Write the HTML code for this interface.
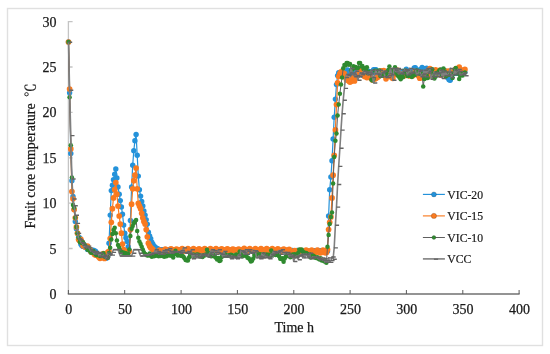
<!DOCTYPE html>
<html lang="en"><head><meta charset="utf-8"><title>Fruit core temperature</title>
<style>html,body{margin:0;padding:0;background:#fff}body{width:550px;height:354px;overflow:hidden}</style></head>
<body>
<svg width="550" height="354" viewBox="0 0 550 354" style="display:block">
<rect width="550" height="354" fill="#fff"/>
<rect x="7.5" y="8.5" width="535" height="337" fill="#fff" stroke="#E0E0E0" stroke-width="1.4"/>
<path d="M68.4 21.1V294M68.4 248.5h4.2M68.4 203.1h4.2M68.4 157.8h4.2M68.4 112.4h4.2M68.4 67.0h4.2M68.4 21.6h4.2" stroke="#C4C4C4" stroke-width="1.3" fill="none"/>
<path d="M67.8 294H519.6" stroke="#707070" stroke-width="1.5" fill="none"/>
<path d="M68.4 294v-4M124.7 294v-4M181.1 294v-4M237.4 294v-4M293.8 294v-4M350.1 294v-4M406.4 294v-4M462.8 294v-4M519.1 294v-4" stroke="#5a5a5a" stroke-width="1" fill="none"/>
<g font-family="'Liberation Serif', 'Times New Roman', serif" font-size="14" fill="#1a1a1a" stroke="#1a1a1a" stroke-width="0.25">
<text x="56.5" y="298.9" text-anchor="end">0</text>
<text x="56.5" y="253.5" text-anchor="end">5</text>
<text x="56.5" y="208.1" text-anchor="end">10</text>
<text x="56.5" y="162.8" text-anchor="end">15</text>
<text x="56.5" y="117.4" text-anchor="end">20</text>
<text x="56.5" y="72.0" text-anchor="end">25</text>
<text x="56.5" y="26.6" text-anchor="end">30</text>
<text x="68.7" y="314" text-anchor="middle">0</text>
<text x="125.0" y="314" text-anchor="middle">50</text>
<text x="181.4" y="314" text-anchor="middle">100</text>
<text x="237.7" y="314" text-anchor="middle">150</text>
<text x="294.1" y="314" text-anchor="middle">200</text>
<text x="350.4" y="314" text-anchor="middle">250</text>
<text x="406.7" y="314" text-anchor="middle">300</text>
<text x="463.1" y="314" text-anchor="middle">350</text>
<text x="519.4" y="314" text-anchor="middle">400</text>
<text x="294.3" y="332" text-anchor="middle">Time h</text>
<text transform="translate(35.2,228.5) rotate(-90)" font-family="'Liberation Serif', 'Noto Serif CJK SC', serif">Fruit core temperature<tspan dx="6">℃</tspan></text>
</g>
<polyline points="68.5,42.0 69.6,92.8 70.8,153.5 71.9,180.7 73.0,196.5 74.1,209.6 75.3,221.4 76.4,228.7 77.5,233.2 78.6,237.2 79.8,238.0 80.9,244.3 82.0,245.7 83.1,246.4 84.3,245.0 85.4,247.5 86.5,247.7 87.6,249.5 88.8,249.5 89.9,249.1 91.0,251.9 92.1,250.4 93.3,250.2 94.4,251.0 95.5,251.2 96.7,253.7 97.8,254.3 98.9,256.1 100.0,256.2 101.2,255.1 102.3,256.6 103.4,257.1 104.5,258.0 105.7,258.3 106.8,258.1 107.9,255.3 109.0,243.2 110.2,215.1 111.3,190.6 112.4,185.2 113.5,179.8 114.7,174.3 115.8,168.9 116.9,177.9 118.0,187.0 119.2,194.2 120.3,200.6 121.4,206.9 122.5,214.2 123.7,225.1 124.8,233.2 125.9,237.7 127.1,241.4 128.2,246.8 129.3,250.4 130.4,220.5 131.6,187.0 132.7,165.3 133.8,150.8 134.9,140.8 136.1,134.4 137.2,155.3 138.3,176.1 139.4,189.7 140.6,196.1 141.7,201.5 142.8,206.0 143.9,211.0 145.1,215.1 146.2,219.6 147.3,224.1 148.4,232.3 149.6,235.9 150.7,238.6 151.8,242.3 152.9,244.1 154.1,246.3 155.2,247.2 156.3,248.1 157.5,248.6 158.6,249.2 159.7,249.7 160.8,249.9 162.0,249.8 163.1,249.8 164.2,249.9 165.3,250.1 166.5,250.0 167.6,250.0 168.7,249.6 169.8,249.4 171.0,249.7 172.1,250.0 173.2,250.2 174.3,250.0 175.5,250.0 176.6,250.2 177.7,250.1 178.8,250.3 180.0,250.0 181.1,250.2 182.2,249.8 183.4,249.8 184.5,249.8 185.6,250.3 186.7,250.2 187.9,250.0 189.0,250.4 190.1,250.4 191.2,250.3 192.4,250.7 193.5,250.4 194.6,250.1 195.7,250.4 196.9,250.2 198.0,250.7 199.1,250.5 200.2,250.9 201.4,250.3 202.5,250.2 203.6,250.3 204.7,250.5 205.9,250.0 207.0,249.6 208.1,250.5 209.2,250.1 210.4,249.7 211.5,249.9 212.6,250.5 213.8,250.2 214.9,250.3 216.0,250.6 217.1,250.9 218.3,250.5 219.4,250.2 220.5,250.5 221.6,250.3 222.8,250.8 223.9,250.4 225.0,250.4 226.1,250.5 227.3,250.6 228.4,250.3 229.5,250.1 230.6,250.2 231.8,250.3 232.9,250.4 234.0,250.3 235.1,250.3 236.3,250.2 237.4,250.5 238.5,251.3 239.7,250.7 240.8,250.0 241.9,250.1 243.0,250.4 244.2,250.6 245.3,250.6 246.4,250.7 247.5,251.0 248.7,251.0 249.8,251.2 250.9,250.9 252.0,250.9 253.2,250.7 254.3,250.8 255.4,250.4 256.5,250.5 257.7,249.9 258.8,250.9 259.9,251.1 261.0,250.7 262.2,249.9 263.3,250.4 264.4,250.6 265.5,250.8 266.7,250.4 267.8,250.7 268.9,250.5 270.1,250.8 271.2,251.2 272.3,251.0 273.4,250.8 274.6,250.4 275.7,250.7 276.8,251.0 277.9,250.8 279.1,250.8 280.2,250.8 281.3,250.9 282.4,250.6 283.6,250.6 284.7,250.2 285.8,250.2 286.9,250.4 288.1,251.2 289.2,250.9 290.3,250.8 291.4,250.7 292.6,250.5 293.7,250.9 294.8,250.7 296.0,251.1 297.1,250.4 298.2,251.2 299.3,251.7 300.5,252.0 301.6,251.9 302.7,251.9 303.8,250.9 305.0,251.1 306.1,251.6 307.2,251.0 308.3,251.3 309.5,251.6 310.6,251.2 311.7,251.0 312.8,251.2 314.0,250.8 315.1,250.9 316.2,250.6 317.3,250.7 318.5,250.5 319.6,250.8 320.7,251.4 321.8,250.6 323.0,251.1 324.1,251.3 325.2,251.5 326.4,251.5 327.5,251.3 328.6,216.0 329.7,189.7 330.9,177.0 332.0,160.7 333.1,139.0 334.2,117.2 335.4,99.1 336.5,84.6 337.6,75.6 338.7,72.8 339.9,72.8 341.0,72.8 342.1,72.8 343.2,72.8 344.4,72.8 345.5,72.8 346.6,73.2 347.7,70.0 348.9,73.5 350.0,73.8 351.1,73.7 352.3,78.0 353.4,72.4 354.5,72.0 355.6,74.1 356.8,70.1 357.9,70.4 359.0,70.8 360.1,72.7 361.3,72.6 362.4,75.3 363.5,72.8 364.6,73.5 365.8,73.0 366.9,70.9 368.0,71.3 369.1,71.5 370.3,71.7 371.4,73.4 372.5,71.8 373.6,69.7 374.8,69.8 375.9,69.7 377.0,72.6 378.1,74.2 379.3,76.0 380.4,72.5 381.5,73.1 382.7,70.6 383.8,72.9 384.9,73.6 386.0,73.1 387.2,71.4 388.3,72.0 389.4,72.0 390.5,72.4 391.7,72.3 392.8,74.4 393.9,73.6 395.0,73.6 396.2,73.3 397.3,72.3 398.4,73.7 399.5,73.4 400.7,73.7 401.8,72.6 402.9,71.4 404.0,73.6 405.2,72.3 406.3,69.1 407.4,73.2 408.6,74.5 409.7,75.2 410.8,74.6 411.9,71.1 413.1,71.9 414.2,68.0 415.3,67.6 416.4,73.5 417.6,71.3 418.7,71.5 419.8,69.8 420.9,72.3 422.1,67.4 423.2,68.5 424.3,69.3 425.4,71.0 426.6,68.1 427.7,69.9 428.8,73.9 429.9,74.8 431.1,73.4 432.2,74.6 433.3,72.7 434.4,71.2 435.6,73.1 436.7,71.0 437.8,72.2 439.0,70.6 440.1,70.9 441.2,69.9 442.3,72.9 443.5,73.0 444.6,70.5 445.7,72.6 446.8,76.1 448.0,77.9 449.1,79.8 450.2,80.2 451.3,77.6 452.5,73.3 453.6,73.8 454.7,72.8 455.8,73.0 457.0,72.9 458.1,73.2 459.2,73.3 460.3,72.3 461.5,74.5 462.6,72.1 463.7,70.9 464.9,72.1" fill="none" stroke="#2492DA" stroke-width="1.2" stroke-linejoin="round"/>
<g fill="#2492DA"><circle cx="68.5" cy="42.0" r="2.7"/><circle cx="69.6" cy="92.8" r="2.7"/><circle cx="70.8" cy="153.5" r="2.7"/><circle cx="71.9" cy="180.7" r="2.7"/><circle cx="73.0" cy="196.5" r="2.7"/><circle cx="74.1" cy="209.6" r="2.7"/><circle cx="75.3" cy="221.4" r="2.7"/><circle cx="76.4" cy="228.7" r="2.7"/><circle cx="77.5" cy="233.2" r="2.7"/><circle cx="78.6" cy="237.2" r="2.7"/><circle cx="79.8" cy="238.0" r="2.7"/><circle cx="80.9" cy="244.3" r="2.7"/><circle cx="82.0" cy="245.7" r="2.7"/><circle cx="83.1" cy="246.4" r="2.7"/><circle cx="84.3" cy="245.0" r="2.7"/><circle cx="85.4" cy="247.5" r="2.7"/><circle cx="86.5" cy="247.7" r="2.7"/><circle cx="87.6" cy="249.5" r="2.7"/><circle cx="88.8" cy="249.5" r="2.7"/><circle cx="89.9" cy="249.1" r="2.7"/><circle cx="91.0" cy="251.9" r="2.7"/><circle cx="92.1" cy="250.4" r="2.7"/><circle cx="93.3" cy="250.2" r="2.7"/><circle cx="94.4" cy="251.0" r="2.7"/><circle cx="95.5" cy="251.2" r="2.7"/><circle cx="96.7" cy="253.7" r="2.7"/><circle cx="97.8" cy="254.3" r="2.7"/><circle cx="98.9" cy="256.1" r="2.7"/><circle cx="100.0" cy="256.2" r="2.7"/><circle cx="101.2" cy="255.1" r="2.7"/><circle cx="102.3" cy="256.6" r="2.7"/><circle cx="103.4" cy="257.1" r="2.7"/><circle cx="104.5" cy="258.0" r="2.7"/><circle cx="105.7" cy="258.3" r="2.7"/><circle cx="106.8" cy="258.1" r="2.7"/><circle cx="107.9" cy="255.3" r="2.7"/><circle cx="109.0" cy="243.2" r="2.7"/><circle cx="110.2" cy="215.1" r="2.7"/><circle cx="111.3" cy="190.6" r="2.7"/><circle cx="112.4" cy="185.2" r="2.7"/><circle cx="113.5" cy="179.8" r="2.7"/><circle cx="114.7" cy="174.3" r="2.7"/><circle cx="115.8" cy="168.9" r="2.7"/><circle cx="116.9" cy="177.9" r="2.7"/><circle cx="118.0" cy="187.0" r="2.7"/><circle cx="119.2" cy="194.2" r="2.7"/><circle cx="120.3" cy="200.6" r="2.7"/><circle cx="121.4" cy="206.9" r="2.7"/><circle cx="122.5" cy="214.2" r="2.7"/><circle cx="123.7" cy="225.1" r="2.7"/><circle cx="124.8" cy="233.2" r="2.7"/><circle cx="125.9" cy="237.7" r="2.7"/><circle cx="127.1" cy="241.4" r="2.7"/><circle cx="128.2" cy="246.8" r="2.7"/><circle cx="129.3" cy="250.4" r="2.7"/><circle cx="130.4" cy="220.5" r="2.7"/><circle cx="131.6" cy="187.0" r="2.7"/><circle cx="132.7" cy="165.3" r="2.7"/><circle cx="133.8" cy="150.8" r="2.7"/><circle cx="134.9" cy="140.8" r="2.7"/><circle cx="136.1" cy="134.4" r="2.7"/><circle cx="137.2" cy="155.3" r="2.7"/><circle cx="138.3" cy="176.1" r="2.7"/><circle cx="139.4" cy="189.7" r="2.7"/><circle cx="140.6" cy="196.1" r="2.7"/><circle cx="141.7" cy="201.5" r="2.7"/><circle cx="142.8" cy="206.0" r="2.7"/><circle cx="143.9" cy="211.0" r="2.7"/><circle cx="145.1" cy="215.1" r="2.7"/><circle cx="146.2" cy="219.6" r="2.7"/><circle cx="147.3" cy="224.1" r="2.7"/><circle cx="148.4" cy="232.3" r="2.7"/><circle cx="149.6" cy="235.9" r="2.7"/><circle cx="150.7" cy="238.6" r="2.7"/><circle cx="151.8" cy="242.3" r="2.7"/><circle cx="152.9" cy="244.1" r="2.7"/><circle cx="154.1" cy="246.3" r="2.7"/><circle cx="155.2" cy="247.2" r="2.7"/><circle cx="156.3" cy="248.1" r="2.7"/><circle cx="157.5" cy="248.6" r="2.7"/><circle cx="158.6" cy="249.2" r="2.7"/><circle cx="159.7" cy="249.7" r="2.7"/><circle cx="160.8" cy="249.9" r="2.7"/><circle cx="162.0" cy="249.8" r="2.7"/><circle cx="163.1" cy="249.8" r="2.7"/><circle cx="164.2" cy="249.9" r="2.7"/><circle cx="165.3" cy="250.1" r="2.7"/><circle cx="166.5" cy="250.0" r="2.7"/><circle cx="167.6" cy="250.0" r="2.7"/><circle cx="168.7" cy="249.6" r="2.7"/><circle cx="169.8" cy="249.4" r="2.7"/><circle cx="171.0" cy="249.7" r="2.7"/><circle cx="172.1" cy="250.0" r="2.7"/><circle cx="173.2" cy="250.2" r="2.7"/><circle cx="174.3" cy="250.0" r="2.7"/><circle cx="175.5" cy="250.0" r="2.7"/><circle cx="176.6" cy="250.2" r="2.7"/><circle cx="177.7" cy="250.1" r="2.7"/><circle cx="178.8" cy="250.3" r="2.7"/><circle cx="180.0" cy="250.0" r="2.7"/><circle cx="181.1" cy="250.2" r="2.7"/><circle cx="182.2" cy="249.8" r="2.7"/><circle cx="183.4" cy="249.8" r="2.7"/><circle cx="184.5" cy="249.8" r="2.7"/><circle cx="185.6" cy="250.3" r="2.7"/><circle cx="186.7" cy="250.2" r="2.7"/><circle cx="187.9" cy="250.0" r="2.7"/><circle cx="189.0" cy="250.4" r="2.7"/><circle cx="190.1" cy="250.4" r="2.7"/><circle cx="191.2" cy="250.3" r="2.7"/><circle cx="192.4" cy="250.7" r="2.7"/><circle cx="193.5" cy="250.4" r="2.7"/><circle cx="194.6" cy="250.1" r="2.7"/><circle cx="195.7" cy="250.4" r="2.7"/><circle cx="196.9" cy="250.2" r="2.7"/><circle cx="198.0" cy="250.7" r="2.7"/><circle cx="199.1" cy="250.5" r="2.7"/><circle cx="200.2" cy="250.9" r="2.7"/><circle cx="201.4" cy="250.3" r="2.7"/><circle cx="202.5" cy="250.2" r="2.7"/><circle cx="203.6" cy="250.3" r="2.7"/><circle cx="204.7" cy="250.5" r="2.7"/><circle cx="205.9" cy="250.0" r="2.7"/><circle cx="207.0" cy="249.6" r="2.7"/><circle cx="208.1" cy="250.5" r="2.7"/><circle cx="209.2" cy="250.1" r="2.7"/><circle cx="210.4" cy="249.7" r="2.7"/><circle cx="211.5" cy="249.9" r="2.7"/><circle cx="212.6" cy="250.5" r="2.7"/><circle cx="213.8" cy="250.2" r="2.7"/><circle cx="214.9" cy="250.3" r="2.7"/><circle cx="216.0" cy="250.6" r="2.7"/><circle cx="217.1" cy="250.9" r="2.7"/><circle cx="218.3" cy="250.5" r="2.7"/><circle cx="219.4" cy="250.2" r="2.7"/><circle cx="220.5" cy="250.5" r="2.7"/><circle cx="221.6" cy="250.3" r="2.7"/><circle cx="222.8" cy="250.8" r="2.7"/><circle cx="223.9" cy="250.4" r="2.7"/><circle cx="225.0" cy="250.4" r="2.7"/><circle cx="226.1" cy="250.5" r="2.7"/><circle cx="227.3" cy="250.6" r="2.7"/><circle cx="228.4" cy="250.3" r="2.7"/><circle cx="229.5" cy="250.1" r="2.7"/><circle cx="230.6" cy="250.2" r="2.7"/><circle cx="231.8" cy="250.3" r="2.7"/><circle cx="232.9" cy="250.4" r="2.7"/><circle cx="234.0" cy="250.3" r="2.7"/><circle cx="235.1" cy="250.3" r="2.7"/><circle cx="236.3" cy="250.2" r="2.7"/><circle cx="237.4" cy="250.5" r="2.7"/><circle cx="238.5" cy="251.3" r="2.7"/><circle cx="239.7" cy="250.7" r="2.7"/><circle cx="240.8" cy="250.0" r="2.7"/><circle cx="241.9" cy="250.1" r="2.7"/><circle cx="243.0" cy="250.4" r="2.7"/><circle cx="244.2" cy="250.6" r="2.7"/><circle cx="245.3" cy="250.6" r="2.7"/><circle cx="246.4" cy="250.7" r="2.7"/><circle cx="247.5" cy="251.0" r="2.7"/><circle cx="248.7" cy="251.0" r="2.7"/><circle cx="249.8" cy="251.2" r="2.7"/><circle cx="250.9" cy="250.9" r="2.7"/><circle cx="252.0" cy="250.9" r="2.7"/><circle cx="253.2" cy="250.7" r="2.7"/><circle cx="254.3" cy="250.8" r="2.7"/><circle cx="255.4" cy="250.4" r="2.7"/><circle cx="256.5" cy="250.5" r="2.7"/><circle cx="257.7" cy="249.9" r="2.7"/><circle cx="258.8" cy="250.9" r="2.7"/><circle cx="259.9" cy="251.1" r="2.7"/><circle cx="261.0" cy="250.7" r="2.7"/><circle cx="262.2" cy="249.9" r="2.7"/><circle cx="263.3" cy="250.4" r="2.7"/><circle cx="264.4" cy="250.6" r="2.7"/><circle cx="265.5" cy="250.8" r="2.7"/><circle cx="266.7" cy="250.4" r="2.7"/><circle cx="267.8" cy="250.7" r="2.7"/><circle cx="268.9" cy="250.5" r="2.7"/><circle cx="270.1" cy="250.8" r="2.7"/><circle cx="271.2" cy="251.2" r="2.7"/><circle cx="272.3" cy="251.0" r="2.7"/><circle cx="273.4" cy="250.8" r="2.7"/><circle cx="274.6" cy="250.4" r="2.7"/><circle cx="275.7" cy="250.7" r="2.7"/><circle cx="276.8" cy="251.0" r="2.7"/><circle cx="277.9" cy="250.8" r="2.7"/><circle cx="279.1" cy="250.8" r="2.7"/><circle cx="280.2" cy="250.8" r="2.7"/><circle cx="281.3" cy="250.9" r="2.7"/><circle cx="282.4" cy="250.6" r="2.7"/><circle cx="283.6" cy="250.6" r="2.7"/><circle cx="284.7" cy="250.2" r="2.7"/><circle cx="285.8" cy="250.2" r="2.7"/><circle cx="286.9" cy="250.4" r="2.7"/><circle cx="288.1" cy="251.2" r="2.7"/><circle cx="289.2" cy="250.9" r="2.7"/><circle cx="290.3" cy="250.8" r="2.7"/><circle cx="291.4" cy="250.7" r="2.7"/><circle cx="292.6" cy="250.5" r="2.7"/><circle cx="293.7" cy="250.9" r="2.7"/><circle cx="294.8" cy="250.7" r="2.7"/><circle cx="296.0" cy="251.1" r="2.7"/><circle cx="297.1" cy="250.4" r="2.7"/><circle cx="298.2" cy="251.2" r="2.7"/><circle cx="299.3" cy="251.7" r="2.7"/><circle cx="300.5" cy="252.0" r="2.7"/><circle cx="301.6" cy="251.9" r="2.7"/><circle cx="302.7" cy="251.9" r="2.7"/><circle cx="303.8" cy="250.9" r="2.7"/><circle cx="305.0" cy="251.1" r="2.7"/><circle cx="306.1" cy="251.6" r="2.7"/><circle cx="307.2" cy="251.0" r="2.7"/><circle cx="308.3" cy="251.3" r="2.7"/><circle cx="309.5" cy="251.6" r="2.7"/><circle cx="310.6" cy="251.2" r="2.7"/><circle cx="311.7" cy="251.0" r="2.7"/><circle cx="312.8" cy="251.2" r="2.7"/><circle cx="314.0" cy="250.8" r="2.7"/><circle cx="315.1" cy="250.9" r="2.7"/><circle cx="316.2" cy="250.6" r="2.7"/><circle cx="317.3" cy="250.7" r="2.7"/><circle cx="318.5" cy="250.5" r="2.7"/><circle cx="319.6" cy="250.8" r="2.7"/><circle cx="320.7" cy="251.4" r="2.7"/><circle cx="321.8" cy="250.6" r="2.7"/><circle cx="323.0" cy="251.1" r="2.7"/><circle cx="324.1" cy="251.3" r="2.7"/><circle cx="325.2" cy="251.5" r="2.7"/><circle cx="326.4" cy="251.5" r="2.7"/><circle cx="327.5" cy="251.3" r="2.7"/><circle cx="328.6" cy="216.0" r="2.7"/><circle cx="329.7" cy="189.7" r="2.7"/><circle cx="330.9" cy="177.0" r="2.7"/><circle cx="332.0" cy="160.7" r="2.7"/><circle cx="333.1" cy="139.0" r="2.7"/><circle cx="334.2" cy="117.2" r="2.7"/><circle cx="335.4" cy="99.1" r="2.7"/><circle cx="336.5" cy="84.6" r="2.7"/><circle cx="337.6" cy="75.6" r="2.7"/><circle cx="338.7" cy="72.8" r="2.7"/><circle cx="339.9" cy="72.8" r="2.7"/><circle cx="341.0" cy="72.8" r="2.7"/><circle cx="342.1" cy="72.8" r="2.7"/><circle cx="343.2" cy="72.8" r="2.7"/><circle cx="344.4" cy="72.8" r="2.7"/><circle cx="345.5" cy="72.8" r="2.7"/><circle cx="346.6" cy="73.2" r="2.7"/><circle cx="347.7" cy="70.0" r="2.7"/><circle cx="348.9" cy="73.5" r="2.7"/><circle cx="350.0" cy="73.8" r="2.7"/><circle cx="351.1" cy="73.7" r="2.7"/><circle cx="352.3" cy="78.0" r="2.7"/><circle cx="353.4" cy="72.4" r="2.7"/><circle cx="354.5" cy="72.0" r="2.7"/><circle cx="355.6" cy="74.1" r="2.7"/><circle cx="356.8" cy="70.1" r="2.7"/><circle cx="357.9" cy="70.4" r="2.7"/><circle cx="359.0" cy="70.8" r="2.7"/><circle cx="360.1" cy="72.7" r="2.7"/><circle cx="361.3" cy="72.6" r="2.7"/><circle cx="362.4" cy="75.3" r="2.7"/><circle cx="363.5" cy="72.8" r="2.7"/><circle cx="364.6" cy="73.5" r="2.7"/><circle cx="365.8" cy="73.0" r="2.7"/><circle cx="366.9" cy="70.9" r="2.7"/><circle cx="368.0" cy="71.3" r="2.7"/><circle cx="369.1" cy="71.5" r="2.7"/><circle cx="370.3" cy="71.7" r="2.7"/><circle cx="371.4" cy="73.4" r="2.7"/><circle cx="372.5" cy="71.8" r="2.7"/><circle cx="373.6" cy="69.7" r="2.7"/><circle cx="374.8" cy="69.8" r="2.7"/><circle cx="375.9" cy="69.7" r="2.7"/><circle cx="377.0" cy="72.6" r="2.7"/><circle cx="378.1" cy="74.2" r="2.7"/><circle cx="379.3" cy="76.0" r="2.7"/><circle cx="380.4" cy="72.5" r="2.7"/><circle cx="381.5" cy="73.1" r="2.7"/><circle cx="382.7" cy="70.6" r="2.7"/><circle cx="383.8" cy="72.9" r="2.7"/><circle cx="384.9" cy="73.6" r="2.7"/><circle cx="386.0" cy="73.1" r="2.7"/><circle cx="387.2" cy="71.4" r="2.7"/><circle cx="388.3" cy="72.0" r="2.7"/><circle cx="389.4" cy="72.0" r="2.7"/><circle cx="390.5" cy="72.4" r="2.7"/><circle cx="391.7" cy="72.3" r="2.7"/><circle cx="392.8" cy="74.4" r="2.7"/><circle cx="393.9" cy="73.6" r="2.7"/><circle cx="395.0" cy="73.6" r="2.7"/><circle cx="396.2" cy="73.3" r="2.7"/><circle cx="397.3" cy="72.3" r="2.7"/><circle cx="398.4" cy="73.7" r="2.7"/><circle cx="399.5" cy="73.4" r="2.7"/><circle cx="400.7" cy="73.7" r="2.7"/><circle cx="401.8" cy="72.6" r="2.7"/><circle cx="402.9" cy="71.4" r="2.7"/><circle cx="404.0" cy="73.6" r="2.7"/><circle cx="405.2" cy="72.3" r="2.7"/><circle cx="406.3" cy="69.1" r="2.7"/><circle cx="407.4" cy="73.2" r="2.7"/><circle cx="408.6" cy="74.5" r="2.7"/><circle cx="409.7" cy="75.2" r="2.7"/><circle cx="410.8" cy="74.6" r="2.7"/><circle cx="411.9" cy="71.1" r="2.7"/><circle cx="413.1" cy="71.9" r="2.7"/><circle cx="414.2" cy="68.0" r="2.7"/><circle cx="415.3" cy="67.6" r="2.7"/><circle cx="416.4" cy="73.5" r="2.7"/><circle cx="417.6" cy="71.3" r="2.7"/><circle cx="418.7" cy="71.5" r="2.7"/><circle cx="419.8" cy="69.8" r="2.7"/><circle cx="420.9" cy="72.3" r="2.7"/><circle cx="422.1" cy="67.4" r="2.7"/><circle cx="423.2" cy="68.5" r="2.7"/><circle cx="424.3" cy="69.3" r="2.7"/><circle cx="425.4" cy="71.0" r="2.7"/><circle cx="426.6" cy="68.1" r="2.7"/><circle cx="427.7" cy="69.9" r="2.7"/><circle cx="428.8" cy="73.9" r="2.7"/><circle cx="429.9" cy="74.8" r="2.7"/><circle cx="431.1" cy="73.4" r="2.7"/><circle cx="432.2" cy="74.6" r="2.7"/><circle cx="433.3" cy="72.7" r="2.7"/><circle cx="434.4" cy="71.2" r="2.7"/><circle cx="435.6" cy="73.1" r="2.7"/><circle cx="436.7" cy="71.0" r="2.7"/><circle cx="437.8" cy="72.2" r="2.7"/><circle cx="439.0" cy="70.6" r="2.7"/><circle cx="440.1" cy="70.9" r="2.7"/><circle cx="441.2" cy="69.9" r="2.7"/><circle cx="442.3" cy="72.9" r="2.7"/><circle cx="443.5" cy="73.0" r="2.7"/><circle cx="444.6" cy="70.5" r="2.7"/><circle cx="445.7" cy="72.6" r="2.7"/><circle cx="446.8" cy="76.1" r="2.7"/><circle cx="448.0" cy="77.9" r="2.7"/><circle cx="449.1" cy="79.8" r="2.7"/><circle cx="450.2" cy="80.2" r="2.7"/><circle cx="451.3" cy="77.6" r="2.7"/><circle cx="452.5" cy="73.3" r="2.7"/><circle cx="453.6" cy="73.8" r="2.7"/><circle cx="454.7" cy="72.8" r="2.7"/><circle cx="455.8" cy="73.0" r="2.7"/><circle cx="457.0" cy="72.9" r="2.7"/><circle cx="458.1" cy="73.2" r="2.7"/><circle cx="459.2" cy="73.3" r="2.7"/><circle cx="460.3" cy="72.3" r="2.7"/><circle cx="461.5" cy="74.5" r="2.7"/><circle cx="462.6" cy="72.1" r="2.7"/><circle cx="463.7" cy="70.9" r="2.7"/><circle cx="464.9" cy="72.1" r="2.7"/></g>
<polyline points="68.5,42.0 69.6,89.1 70.8,148.9 71.9,191.5 73.0,198.8 74.1,209.6 75.3,217.8 76.4,226.9 77.5,233.2 78.6,239.6 79.8,240.7 80.9,239.4 82.0,242.4 83.1,245.7 84.3,245.5 85.4,247.0 86.5,247.2 87.6,246.2 88.8,248.9 89.9,249.6 91.0,251.7 92.1,252.3 93.3,252.2 94.4,254.3 95.5,254.9 96.7,255.0 97.8,255.8 98.9,257.1 100.0,258.3 101.2,257.4 102.3,257.2 103.4,253.6 104.5,258.5 105.7,257.1 106.8,255.9 107.9,252.1 109.0,251.3 110.2,238.6 111.3,222.3 112.4,208.7 113.5,197.9 114.7,189.7 115.8,182.5 116.9,194.2 118.0,206.0 119.2,216.0 120.3,224.1 121.4,233.2 122.5,244.1 123.7,249.5 124.8,251.3 125.9,251.6 127.1,251.9 128.2,252.2 129.3,251.3 130.4,229.6 131.6,204.2 132.7,188.8 133.8,180.7 134.9,175.2 136.1,168.0 137.2,188.8 138.3,203.3 139.4,206.0 140.6,208.7 141.7,213.3 142.8,217.8 143.9,221.4 145.1,224.1 146.2,229.6 147.3,236.8 148.4,243.2 149.6,245.9 150.7,247.7 151.8,248.6 152.9,249.5 154.1,252.2 155.2,252.9 156.3,253.4 157.5,253.5 158.6,251.8 159.7,250.2 160.8,251.3 162.0,252.2 163.1,251.7 164.2,250.1 165.3,249.0 166.5,249.8 167.6,251.1 168.7,250.9 169.8,250.0 171.0,248.9 172.1,249.5 173.2,250.7 174.3,251.3 175.5,249.6 176.6,249.0 177.7,249.9 178.8,251.2 180.0,251.1 181.1,249.6 182.2,248.7 183.4,249.7 184.5,251.1 185.6,251.1 186.7,249.8 187.9,248.6 189.0,249.9 190.1,251.1 191.2,251.1 192.4,249.7 193.5,248.7 194.6,249.7 195.7,250.8 196.9,251.1 198.0,249.5 199.1,248.8 200.2,249.8 201.4,251.0 202.5,251.0 203.6,249.7 204.7,248.6 205.9,249.5 207.0,251.0 208.1,251.1 209.2,249.8 210.4,248.5 211.5,249.7 212.6,251.3 213.8,251.2 214.9,249.8 216.0,248.6 217.1,249.8 218.3,250.6 219.4,250.9 220.5,249.7 221.6,248.9 222.8,249.6 223.9,251.1 225.0,251.2 226.1,249.6 227.3,248.8 228.4,249.5 229.5,251.1 230.6,251.6 231.8,249.6 232.9,249.1 234.0,249.5 235.1,250.7 236.3,251.1 237.4,249.9 238.5,249.0 239.7,249.6 240.8,251.1 241.9,251.2 243.0,249.8 244.2,248.4 245.3,249.7 246.4,250.9 247.5,250.9 248.7,249.6 249.8,248.6 250.9,249.9 252.0,251.1 253.2,251.2 254.3,249.9 255.4,248.6 256.5,249.8 257.7,251.1 258.8,251.2 259.9,249.8 261.0,248.6 262.2,249.8 263.3,251.1 264.4,251.0 265.5,249.6 266.7,248.6 267.8,249.7 268.9,251.4 270.1,250.9 271.2,249.6 272.3,248.6 273.4,249.9 274.6,250.6 275.7,251.3 276.8,249.6 277.9,248.8 279.1,249.8 280.2,250.9 281.3,251.1 282.4,250.2 283.6,249.0 284.7,249.7 285.8,250.8 286.9,251.7 288.1,250.3 289.2,249.3 290.3,250.6 291.4,252.3 292.6,252.7 293.7,251.6 294.8,250.5 296.0,251.3 297.1,253.0 298.2,252.9 299.3,251.2 300.5,250.4 301.6,251.4 302.7,252.7 303.8,252.7 305.0,251.1 306.1,250.0 307.2,250.9 308.3,252.5 309.5,252.5 310.6,251.0 311.7,250.0 312.8,251.0 314.0,252.4 315.1,252.7 316.2,251.6 317.3,250.2 318.5,251.3 319.6,252.6 320.7,252.8 321.8,251.5 323.0,250.1 324.1,251.2 325.2,252.8 326.4,252.5 327.5,249.5 328.6,229.6 329.7,222.3 330.9,216.9 332.0,197.9 333.1,175.2 334.2,155.3 335.4,129.9 336.5,104.6 337.6,82.8 338.7,76.5 339.9,73.7 341.0,71.9 342.1,72.5 343.2,73.1 344.4,73.7 345.5,76.9 346.6,80.0 347.7,79.4 348.9,81.1 350.0,82.1 351.1,81.2 352.3,79.6 353.4,77.7 354.5,80.9 355.6,77.0 356.8,75.2 357.9,75.2 359.0,74.2 360.1,70.5 361.3,72.2 362.4,71.9 363.5,74.8 364.6,76.4 365.8,76.5 366.9,77.6 368.0,76.2 369.1,77.3 370.3,76.3 371.4,78.4 372.5,79.9 373.6,78.8 374.8,78.9 375.9,78.2 377.0,77.6 378.1,76.8 379.3,73.6 380.4,71.1 381.5,71.0 382.7,73.2 383.8,70.6 384.9,75.3 386.0,78.8 387.2,76.2 388.3,75.2 389.4,75.0 390.5,74.5 391.7,77.6 392.8,78.3 393.9,73.9 395.0,71.9 396.2,74.3 397.3,70.2 398.4,74.0 399.5,75.1 400.7,74.0 401.8,76.3 402.9,76.2 404.0,75.5 405.2,75.5 406.3,73.0 407.4,72.1 408.6,75.1 409.7,75.9 410.8,74.5 411.9,74.3 413.1,75.6 414.2,73.9 415.3,72.1 416.4,74.1 417.6,72.3 418.7,76.1 419.8,78.2 420.9,75.1 422.1,76.1 423.2,76.9 424.3,75.9 425.4,76.2 426.6,74.3 427.7,76.8 428.8,76.1 429.9,68.5 431.1,70.5 432.2,75.6 433.3,73.4 434.4,72.3 435.6,69.9 436.7,71.1 437.8,73.4 439.0,70.5 440.1,70.3 441.2,75.2 442.3,72.8 443.5,73.4 444.6,71.1 445.7,72.8 446.8,71.3 448.0,71.7 449.1,71.2 450.2,72.1 451.3,73.3 452.5,73.1 453.6,71.8 454.7,71.5 455.8,68.9 457.0,69.9 458.1,70.0 459.2,67.0 460.3,69.5 461.5,70.0 462.6,72.5 463.7,72.6 464.9,69.4" fill="none" stroke="#F97A20" stroke-width="1.2" stroke-linejoin="round"/>
<g fill="#F97A20"><circle cx="68.5" cy="42.0" r="2.85"/><circle cx="69.6" cy="89.1" r="2.85"/><circle cx="70.8" cy="148.9" r="2.85"/><circle cx="71.9" cy="191.5" r="2.85"/><circle cx="73.0" cy="198.8" r="2.85"/><circle cx="74.1" cy="209.6" r="2.85"/><circle cx="75.3" cy="217.8" r="2.85"/><circle cx="76.4" cy="226.9" r="2.85"/><circle cx="77.5" cy="233.2" r="2.85"/><circle cx="78.6" cy="239.6" r="2.85"/><circle cx="79.8" cy="240.7" r="2.85"/><circle cx="80.9" cy="239.4" r="2.85"/><circle cx="82.0" cy="242.4" r="2.85"/><circle cx="83.1" cy="245.7" r="2.85"/><circle cx="84.3" cy="245.5" r="2.85"/><circle cx="85.4" cy="247.0" r="2.85"/><circle cx="86.5" cy="247.2" r="2.85"/><circle cx="87.6" cy="246.2" r="2.85"/><circle cx="88.8" cy="248.9" r="2.85"/><circle cx="89.9" cy="249.6" r="2.85"/><circle cx="91.0" cy="251.7" r="2.85"/><circle cx="92.1" cy="252.3" r="2.85"/><circle cx="93.3" cy="252.2" r="2.85"/><circle cx="94.4" cy="254.3" r="2.85"/><circle cx="95.5" cy="254.9" r="2.85"/><circle cx="96.7" cy="255.0" r="2.85"/><circle cx="97.8" cy="255.8" r="2.85"/><circle cx="98.9" cy="257.1" r="2.85"/><circle cx="100.0" cy="258.3" r="2.85"/><circle cx="101.2" cy="257.4" r="2.85"/><circle cx="102.3" cy="257.2" r="2.85"/><circle cx="103.4" cy="253.6" r="2.85"/><circle cx="104.5" cy="258.5" r="2.85"/><circle cx="105.7" cy="257.1" r="2.85"/><circle cx="106.8" cy="255.9" r="2.85"/><circle cx="107.9" cy="252.1" r="2.85"/><circle cx="109.0" cy="251.3" r="2.85"/><circle cx="110.2" cy="238.6" r="2.85"/><circle cx="111.3" cy="222.3" r="2.85"/><circle cx="112.4" cy="208.7" r="2.85"/><circle cx="113.5" cy="197.9" r="2.85"/><circle cx="114.7" cy="189.7" r="2.85"/><circle cx="115.8" cy="182.5" r="2.85"/><circle cx="116.9" cy="194.2" r="2.85"/><circle cx="118.0" cy="206.0" r="2.85"/><circle cx="119.2" cy="216.0" r="2.85"/><circle cx="120.3" cy="224.1" r="2.85"/><circle cx="121.4" cy="233.2" r="2.85"/><circle cx="122.5" cy="244.1" r="2.85"/><circle cx="123.7" cy="249.5" r="2.85"/><circle cx="124.8" cy="251.3" r="2.85"/><circle cx="125.9" cy="251.6" r="2.85"/><circle cx="127.1" cy="251.9" r="2.85"/><circle cx="128.2" cy="252.2" r="2.85"/><circle cx="129.3" cy="251.3" r="2.85"/><circle cx="130.4" cy="229.6" r="2.85"/><circle cx="131.6" cy="204.2" r="2.85"/><circle cx="132.7" cy="188.8" r="2.85"/><circle cx="133.8" cy="180.7" r="2.85"/><circle cx="134.9" cy="175.2" r="2.85"/><circle cx="136.1" cy="168.0" r="2.85"/><circle cx="137.2" cy="188.8" r="2.85"/><circle cx="138.3" cy="203.3" r="2.85"/><circle cx="139.4" cy="206.0" r="2.85"/><circle cx="140.6" cy="208.7" r="2.85"/><circle cx="141.7" cy="213.3" r="2.85"/><circle cx="142.8" cy="217.8" r="2.85"/><circle cx="143.9" cy="221.4" r="2.85"/><circle cx="145.1" cy="224.1" r="2.85"/><circle cx="146.2" cy="229.6" r="2.85"/><circle cx="147.3" cy="236.8" r="2.85"/><circle cx="148.4" cy="243.2" r="2.85"/><circle cx="149.6" cy="245.9" r="2.85"/><circle cx="150.7" cy="247.7" r="2.85"/><circle cx="151.8" cy="248.6" r="2.85"/><circle cx="152.9" cy="249.5" r="2.85"/><circle cx="154.1" cy="252.2" r="2.85"/><circle cx="155.2" cy="252.9" r="2.85"/><circle cx="156.3" cy="253.4" r="2.85"/><circle cx="157.5" cy="253.5" r="2.85"/><circle cx="158.6" cy="251.8" r="2.85"/><circle cx="159.7" cy="250.2" r="2.85"/><circle cx="160.8" cy="251.3" r="2.85"/><circle cx="162.0" cy="252.2" r="2.85"/><circle cx="163.1" cy="251.7" r="2.85"/><circle cx="164.2" cy="250.1" r="2.85"/><circle cx="165.3" cy="249.0" r="2.85"/><circle cx="166.5" cy="249.8" r="2.85"/><circle cx="167.6" cy="251.1" r="2.85"/><circle cx="168.7" cy="250.9" r="2.85"/><circle cx="169.8" cy="250.0" r="2.85"/><circle cx="171.0" cy="248.9" r="2.85"/><circle cx="172.1" cy="249.5" r="2.85"/><circle cx="173.2" cy="250.7" r="2.85"/><circle cx="174.3" cy="251.3" r="2.85"/><circle cx="175.5" cy="249.6" r="2.85"/><circle cx="176.6" cy="249.0" r="2.85"/><circle cx="177.7" cy="249.9" r="2.85"/><circle cx="178.8" cy="251.2" r="2.85"/><circle cx="180.0" cy="251.1" r="2.85"/><circle cx="181.1" cy="249.6" r="2.85"/><circle cx="182.2" cy="248.7" r="2.85"/><circle cx="183.4" cy="249.7" r="2.85"/><circle cx="184.5" cy="251.1" r="2.85"/><circle cx="185.6" cy="251.1" r="2.85"/><circle cx="186.7" cy="249.8" r="2.85"/><circle cx="187.9" cy="248.6" r="2.85"/><circle cx="189.0" cy="249.9" r="2.85"/><circle cx="190.1" cy="251.1" r="2.85"/><circle cx="191.2" cy="251.1" r="2.85"/><circle cx="192.4" cy="249.7" r="2.85"/><circle cx="193.5" cy="248.7" r="2.85"/><circle cx="194.6" cy="249.7" r="2.85"/><circle cx="195.7" cy="250.8" r="2.85"/><circle cx="196.9" cy="251.1" r="2.85"/><circle cx="198.0" cy="249.5" r="2.85"/><circle cx="199.1" cy="248.8" r="2.85"/><circle cx="200.2" cy="249.8" r="2.85"/><circle cx="201.4" cy="251.0" r="2.85"/><circle cx="202.5" cy="251.0" r="2.85"/><circle cx="203.6" cy="249.7" r="2.85"/><circle cx="204.7" cy="248.6" r="2.85"/><circle cx="205.9" cy="249.5" r="2.85"/><circle cx="207.0" cy="251.0" r="2.85"/><circle cx="208.1" cy="251.1" r="2.85"/><circle cx="209.2" cy="249.8" r="2.85"/><circle cx="210.4" cy="248.5" r="2.85"/><circle cx="211.5" cy="249.7" r="2.85"/><circle cx="212.6" cy="251.3" r="2.85"/><circle cx="213.8" cy="251.2" r="2.85"/><circle cx="214.9" cy="249.8" r="2.85"/><circle cx="216.0" cy="248.6" r="2.85"/><circle cx="217.1" cy="249.8" r="2.85"/><circle cx="218.3" cy="250.6" r="2.85"/><circle cx="219.4" cy="250.9" r="2.85"/><circle cx="220.5" cy="249.7" r="2.85"/><circle cx="221.6" cy="248.9" r="2.85"/><circle cx="222.8" cy="249.6" r="2.85"/><circle cx="223.9" cy="251.1" r="2.85"/><circle cx="225.0" cy="251.2" r="2.85"/><circle cx="226.1" cy="249.6" r="2.85"/><circle cx="227.3" cy="248.8" r="2.85"/><circle cx="228.4" cy="249.5" r="2.85"/><circle cx="229.5" cy="251.1" r="2.85"/><circle cx="230.6" cy="251.6" r="2.85"/><circle cx="231.8" cy="249.6" r="2.85"/><circle cx="232.9" cy="249.1" r="2.85"/><circle cx="234.0" cy="249.5" r="2.85"/><circle cx="235.1" cy="250.7" r="2.85"/><circle cx="236.3" cy="251.1" r="2.85"/><circle cx="237.4" cy="249.9" r="2.85"/><circle cx="238.5" cy="249.0" r="2.85"/><circle cx="239.7" cy="249.6" r="2.85"/><circle cx="240.8" cy="251.1" r="2.85"/><circle cx="241.9" cy="251.2" r="2.85"/><circle cx="243.0" cy="249.8" r="2.85"/><circle cx="244.2" cy="248.4" r="2.85"/><circle cx="245.3" cy="249.7" r="2.85"/><circle cx="246.4" cy="250.9" r="2.85"/><circle cx="247.5" cy="250.9" r="2.85"/><circle cx="248.7" cy="249.6" r="2.85"/><circle cx="249.8" cy="248.6" r="2.85"/><circle cx="250.9" cy="249.9" r="2.85"/><circle cx="252.0" cy="251.1" r="2.85"/><circle cx="253.2" cy="251.2" r="2.85"/><circle cx="254.3" cy="249.9" r="2.85"/><circle cx="255.4" cy="248.6" r="2.85"/><circle cx="256.5" cy="249.8" r="2.85"/><circle cx="257.7" cy="251.1" r="2.85"/><circle cx="258.8" cy="251.2" r="2.85"/><circle cx="259.9" cy="249.8" r="2.85"/><circle cx="261.0" cy="248.6" r="2.85"/><circle cx="262.2" cy="249.8" r="2.85"/><circle cx="263.3" cy="251.1" r="2.85"/><circle cx="264.4" cy="251.0" r="2.85"/><circle cx="265.5" cy="249.6" r="2.85"/><circle cx="266.7" cy="248.6" r="2.85"/><circle cx="267.8" cy="249.7" r="2.85"/><circle cx="268.9" cy="251.4" r="2.85"/><circle cx="270.1" cy="250.9" r="2.85"/><circle cx="271.2" cy="249.6" r="2.85"/><circle cx="272.3" cy="248.6" r="2.85"/><circle cx="273.4" cy="249.9" r="2.85"/><circle cx="274.6" cy="250.6" r="2.85"/><circle cx="275.7" cy="251.3" r="2.85"/><circle cx="276.8" cy="249.6" r="2.85"/><circle cx="277.9" cy="248.8" r="2.85"/><circle cx="279.1" cy="249.8" r="2.85"/><circle cx="280.2" cy="250.9" r="2.85"/><circle cx="281.3" cy="251.1" r="2.85"/><circle cx="282.4" cy="250.2" r="2.85"/><circle cx="283.6" cy="249.0" r="2.85"/><circle cx="284.7" cy="249.7" r="2.85"/><circle cx="285.8" cy="250.8" r="2.85"/><circle cx="286.9" cy="251.7" r="2.85"/><circle cx="288.1" cy="250.3" r="2.85"/><circle cx="289.2" cy="249.3" r="2.85"/><circle cx="290.3" cy="250.6" r="2.85"/><circle cx="291.4" cy="252.3" r="2.85"/><circle cx="292.6" cy="252.7" r="2.85"/><circle cx="293.7" cy="251.6" r="2.85"/><circle cx="294.8" cy="250.5" r="2.85"/><circle cx="296.0" cy="251.3" r="2.85"/><circle cx="297.1" cy="253.0" r="2.85"/><circle cx="298.2" cy="252.9" r="2.85"/><circle cx="299.3" cy="251.2" r="2.85"/><circle cx="300.5" cy="250.4" r="2.85"/><circle cx="301.6" cy="251.4" r="2.85"/><circle cx="302.7" cy="252.7" r="2.85"/><circle cx="303.8" cy="252.7" r="2.85"/><circle cx="305.0" cy="251.1" r="2.85"/><circle cx="306.1" cy="250.0" r="2.85"/><circle cx="307.2" cy="250.9" r="2.85"/><circle cx="308.3" cy="252.5" r="2.85"/><circle cx="309.5" cy="252.5" r="2.85"/><circle cx="310.6" cy="251.0" r="2.85"/><circle cx="311.7" cy="250.0" r="2.85"/><circle cx="312.8" cy="251.0" r="2.85"/><circle cx="314.0" cy="252.4" r="2.85"/><circle cx="315.1" cy="252.7" r="2.85"/><circle cx="316.2" cy="251.6" r="2.85"/><circle cx="317.3" cy="250.2" r="2.85"/><circle cx="318.5" cy="251.3" r="2.85"/><circle cx="319.6" cy="252.6" r="2.85"/><circle cx="320.7" cy="252.8" r="2.85"/><circle cx="321.8" cy="251.5" r="2.85"/><circle cx="323.0" cy="250.1" r="2.85"/><circle cx="324.1" cy="251.2" r="2.85"/><circle cx="325.2" cy="252.8" r="2.85"/><circle cx="326.4" cy="252.5" r="2.85"/><circle cx="327.5" cy="249.5" r="2.85"/><circle cx="328.6" cy="229.6" r="2.85"/><circle cx="329.7" cy="222.3" r="2.85"/><circle cx="330.9" cy="216.9" r="2.85"/><circle cx="332.0" cy="197.9" r="2.85"/><circle cx="333.1" cy="175.2" r="2.85"/><circle cx="334.2" cy="155.3" r="2.85"/><circle cx="335.4" cy="129.9" r="2.85"/><circle cx="336.5" cy="104.6" r="2.85"/><circle cx="337.6" cy="82.8" r="2.85"/><circle cx="338.7" cy="76.5" r="2.85"/><circle cx="339.9" cy="73.7" r="2.85"/><circle cx="341.0" cy="71.9" r="2.85"/><circle cx="342.1" cy="72.5" r="2.85"/><circle cx="343.2" cy="73.1" r="2.85"/><circle cx="344.4" cy="73.7" r="2.85"/><circle cx="345.5" cy="76.9" r="2.85"/><circle cx="346.6" cy="80.0" r="2.85"/><circle cx="347.7" cy="79.4" r="2.85"/><circle cx="348.9" cy="81.1" r="2.85"/><circle cx="350.0" cy="82.1" r="2.85"/><circle cx="351.1" cy="81.2" r="2.85"/><circle cx="352.3" cy="79.6" r="2.85"/><circle cx="353.4" cy="77.7" r="2.85"/><circle cx="354.5" cy="80.9" r="2.85"/><circle cx="355.6" cy="77.0" r="2.85"/><circle cx="356.8" cy="75.2" r="2.85"/><circle cx="357.9" cy="75.2" r="2.85"/><circle cx="359.0" cy="74.2" r="2.85"/><circle cx="360.1" cy="70.5" r="2.85"/><circle cx="361.3" cy="72.2" r="2.85"/><circle cx="362.4" cy="71.9" r="2.85"/><circle cx="363.5" cy="74.8" r="2.85"/><circle cx="364.6" cy="76.4" r="2.85"/><circle cx="365.8" cy="76.5" r="2.85"/><circle cx="366.9" cy="77.6" r="2.85"/><circle cx="368.0" cy="76.2" r="2.85"/><circle cx="369.1" cy="77.3" r="2.85"/><circle cx="370.3" cy="76.3" r="2.85"/><circle cx="371.4" cy="78.4" r="2.85"/><circle cx="372.5" cy="79.9" r="2.85"/><circle cx="373.6" cy="78.8" r="2.85"/><circle cx="374.8" cy="78.9" r="2.85"/><circle cx="375.9" cy="78.2" r="2.85"/><circle cx="377.0" cy="77.6" r="2.85"/><circle cx="378.1" cy="76.8" r="2.85"/><circle cx="379.3" cy="73.6" r="2.85"/><circle cx="380.4" cy="71.1" r="2.85"/><circle cx="381.5" cy="71.0" r="2.85"/><circle cx="382.7" cy="73.2" r="2.85"/><circle cx="383.8" cy="70.6" r="2.85"/><circle cx="384.9" cy="75.3" r="2.85"/><circle cx="386.0" cy="78.8" r="2.85"/><circle cx="387.2" cy="76.2" r="2.85"/><circle cx="388.3" cy="75.2" r="2.85"/><circle cx="389.4" cy="75.0" r="2.85"/><circle cx="390.5" cy="74.5" r="2.85"/><circle cx="391.7" cy="77.6" r="2.85"/><circle cx="392.8" cy="78.3" r="2.85"/><circle cx="393.9" cy="73.9" r="2.85"/><circle cx="395.0" cy="71.9" r="2.85"/><circle cx="396.2" cy="74.3" r="2.85"/><circle cx="397.3" cy="70.2" r="2.85"/><circle cx="398.4" cy="74.0" r="2.85"/><circle cx="399.5" cy="75.1" r="2.85"/><circle cx="400.7" cy="74.0" r="2.85"/><circle cx="401.8" cy="76.3" r="2.85"/><circle cx="402.9" cy="76.2" r="2.85"/><circle cx="404.0" cy="75.5" r="2.85"/><circle cx="405.2" cy="75.5" r="2.85"/><circle cx="406.3" cy="73.0" r="2.85"/><circle cx="407.4" cy="72.1" r="2.85"/><circle cx="408.6" cy="75.1" r="2.85"/><circle cx="409.7" cy="75.9" r="2.85"/><circle cx="410.8" cy="74.5" r="2.85"/><circle cx="411.9" cy="74.3" r="2.85"/><circle cx="413.1" cy="75.6" r="2.85"/><circle cx="414.2" cy="73.9" r="2.85"/><circle cx="415.3" cy="72.1" r="2.85"/><circle cx="416.4" cy="74.1" r="2.85"/><circle cx="417.6" cy="72.3" r="2.85"/><circle cx="418.7" cy="76.1" r="2.85"/><circle cx="419.8" cy="78.2" r="2.85"/><circle cx="420.9" cy="75.1" r="2.85"/><circle cx="422.1" cy="76.1" r="2.85"/><circle cx="423.2" cy="76.9" r="2.85"/><circle cx="424.3" cy="75.9" r="2.85"/><circle cx="425.4" cy="76.2" r="2.85"/><circle cx="426.6" cy="74.3" r="2.85"/><circle cx="427.7" cy="76.8" r="2.85"/><circle cx="428.8" cy="76.1" r="2.85"/><circle cx="429.9" cy="68.5" r="2.85"/><circle cx="431.1" cy="70.5" r="2.85"/><circle cx="432.2" cy="75.6" r="2.85"/><circle cx="433.3" cy="73.4" r="2.85"/><circle cx="434.4" cy="72.3" r="2.85"/><circle cx="435.6" cy="69.9" r="2.85"/><circle cx="436.7" cy="71.1" r="2.85"/><circle cx="437.8" cy="73.4" r="2.85"/><circle cx="439.0" cy="70.5" r="2.85"/><circle cx="440.1" cy="70.3" r="2.85"/><circle cx="441.2" cy="75.2" r="2.85"/><circle cx="442.3" cy="72.8" r="2.85"/><circle cx="443.5" cy="73.4" r="2.85"/><circle cx="444.6" cy="71.1" r="2.85"/><circle cx="445.7" cy="72.8" r="2.85"/><circle cx="446.8" cy="71.3" r="2.85"/><circle cx="448.0" cy="71.7" r="2.85"/><circle cx="449.1" cy="71.2" r="2.85"/><circle cx="450.2" cy="72.1" r="2.85"/><circle cx="451.3" cy="73.3" r="2.85"/><circle cx="452.5" cy="73.1" r="2.85"/><circle cx="453.6" cy="71.8" r="2.85"/><circle cx="454.7" cy="71.5" r="2.85"/><circle cx="455.8" cy="68.9" r="2.85"/><circle cx="457.0" cy="69.9" r="2.85"/><circle cx="458.1" cy="70.0" r="2.85"/><circle cx="459.2" cy="67.0" r="2.85"/><circle cx="460.3" cy="69.5" r="2.85"/><circle cx="461.5" cy="70.0" r="2.85"/><circle cx="462.6" cy="72.5" r="2.85"/><circle cx="463.7" cy="72.6" r="2.85"/><circle cx="464.9" cy="69.4" r="2.85"/></g>
<polyline points="68.5,42.0 69.6,97.3 70.8,145.3 71.9,177.5 73.0,205.1 74.1,207.8 75.3,217.8 76.4,226.9 77.5,233.2 78.6,237.8 79.8,242.1 80.9,242.4 82.0,243.1 83.1,242.3 84.3,244.4 85.4,246.0 86.5,247.3 87.6,249.8 88.8,248.6 89.9,250.8 91.0,252.6 92.1,252.8 93.3,251.1 94.4,252.0 95.5,254.4 96.7,255.2 97.8,254.2 98.9,254.8 100.0,256.0 101.2,256.1 102.3,255.2 103.4,253.3 104.5,256.4 105.7,256.9 106.8,257.3 107.9,257.8 109.0,253.1 110.2,247.7 111.3,239.5 112.4,234.1 113.5,230.0 114.7,227.8 115.8,233.2 116.9,240.5 118.0,245.0 119.2,247.7 120.3,250.4 121.4,252.2 122.5,252.5 123.7,252.8 124.8,253.1 125.9,253.4 127.1,253.7 128.2,254.0 129.3,249.5 130.4,235.9 131.6,228.7 132.7,226.0 133.8,223.2 134.9,221.4 136.1,220.1 137.2,230.9 138.3,237.7 139.4,241.4 140.6,244.1 141.7,246.8 142.8,249.5 143.9,252.2 145.1,254.0 146.2,254.7 147.3,255.4 148.4,255.2 149.6,253.6 150.7,255.7 151.8,256.8 152.9,255.6 154.1,256.3 155.2,255.2 156.3,255.5 157.5,255.4 158.6,256.2 159.7,255.3 160.8,256.1 162.0,255.2 163.1,255.9 164.2,256.7 165.3,255.2 166.5,256.3 167.6,254.4 168.7,255.3 169.8,255.2 171.0,255.6 172.1,255.7 173.2,257.6 174.3,254.3 175.5,250.7 176.6,254.1 177.7,255.5 178.8,255.1 180.0,255.2 181.1,255.8 182.2,256.0 183.4,256.4 184.5,258.2 185.6,259.9 186.7,260.3 187.9,260.5 189.0,257.4 190.1,254.9 191.2,255.1 192.4,256.3 193.5,254.6 194.6,255.4 195.7,255.6 196.9,254.6 198.0,254.8 199.1,254.9 200.2,256.4 201.4,256.0 202.5,256.9 203.6,255.2 204.7,255.4 205.9,254.6 207.0,249.8 208.1,255.3 209.2,253.0 210.4,255.9 211.5,256.2 212.6,255.0 213.8,255.0 214.9,256.8 216.0,257.8 217.1,259.4 218.3,258.1 219.4,260.9 220.5,260.5 221.6,256.9 222.8,256.1 223.9,255.6 225.0,254.2 226.1,255.8 227.3,255.4 228.4,255.7 229.5,255.6 230.6,254.7 231.8,254.9 232.9,255.7 234.0,256.2 235.1,255.5 236.3,254.6 237.4,255.4 238.5,255.5 239.7,251.6 240.8,254.0 241.9,256.3 243.0,256.1 244.2,255.3 245.3,255.1 246.4,256.0 247.5,257.7 248.7,258.3 249.8,259.5 250.9,261.6 252.0,260.8 253.2,258.5 254.3,255.0 255.4,255.5 256.5,254.5 257.7,254.8 258.8,254.6 259.9,254.3 261.0,254.8 262.2,255.6 263.3,254.2 264.4,256.2 265.5,255.4 266.7,254.6 267.8,255.7 268.9,254.8 270.1,256.1 271.2,250.5 272.3,254.5 273.4,254.3 274.6,253.9 275.7,255.0 276.8,254.4 277.9,255.1 279.1,256.2 280.2,258.8 281.3,259.1 282.4,258.3 283.6,261.7 284.7,258.4 285.8,256.6 286.9,254.5 288.1,256.1 289.2,255.4 290.3,257.2 291.4,255.4 292.6,254.4 293.7,256.8 294.8,254.3 296.0,256.0 297.1,255.4 298.2,253.1 299.3,249.4 300.5,250.6 301.6,249.5 302.7,251.5 303.8,252.6 305.0,252.9 306.1,253.1 307.2,253.8 308.3,254.2 309.5,254.3 310.6,257.4 311.7,256.1 312.8,255.4 314.0,256.2 315.1,257.6 316.2,258.0 317.3,257.3 318.5,258.8 319.6,259.5 320.7,258.3 321.8,260.4 323.0,260.1 324.1,261.2 325.2,261.6 326.4,262.8 327.5,246.8 328.6,235.0 329.7,224.1 330.9,216.9 332.0,212.4 333.1,183.4 334.2,157.1 335.4,140.8 336.5,133.5 337.6,115.4 338.7,104.6 339.9,93.7 341.0,84.6 342.1,77.4 343.2,68.3 344.4,65.1 345.5,65.4 346.6,62.9 347.7,62.9 348.9,64.7 350.0,64.1 351.1,70.6 352.3,69.5 353.4,66.3 354.5,67.9 355.6,67.1 356.8,67.7 357.9,68.0 359.0,62.9 360.1,62.9 361.3,66.4 362.4,66.1 363.5,69.0 364.6,68.3 365.8,69.3 366.9,67.3 368.0,73.2 369.1,71.8 370.3,72.7 371.4,79.8 372.5,80.6 373.6,79.1 374.8,70.8 375.9,71.0 377.0,70.7 378.1,71.8 379.3,70.6 380.4,76.1 381.5,74.8 382.7,75.7 383.8,74.1 384.9,74.0 386.0,72.4 387.2,74.8 388.3,70.1 389.4,66.5 390.5,70.1 391.7,71.7 392.8,71.8 393.9,69.7 395.0,67.2 396.2,72.7 397.3,74.4 398.4,76.3 399.5,77.4 400.7,79.2 401.8,75.8 402.9,77.2 404.0,72.1 405.2,70.6 406.3,74.1 407.4,76.0 408.6,76.1 409.7,71.7 410.8,74.2 411.9,77.1 413.1,75.4 414.2,73.6 415.3,74.8 416.4,70.4 417.6,71.1 418.7,71.0 419.8,73.8 420.9,73.5 422.1,73.7 423.2,86.6 424.3,79.0 425.4,78.3 426.6,75.9 427.7,77.9 428.8,71.1 429.9,71.2 431.1,70.0 432.2,69.3 433.3,73.8 434.4,78.4 435.6,76.6 436.7,72.9 437.8,72.7 439.0,71.0 440.1,69.7 441.2,74.4 442.3,73.0 443.5,68.5 444.6,71.6 445.7,76.6 446.8,75.3 448.0,75.1 449.1,73.1 450.2,74.8 451.3,73.6 452.5,78.1 453.6,73.7 454.7,69.6 455.8,68.0 457.0,73.4 458.1,72.3 459.2,79.0 460.3,75.4 461.5,74.2 462.6,75.6 463.7,73.4 464.9,72.6" fill="none" stroke="#5f5f5f" stroke-width="1.0" stroke-linejoin="round"/>
<g fill="#2F8A2F"><circle cx="68.5" cy="42.0" r="2.25"/><circle cx="69.6" cy="97.3" r="2.25"/><circle cx="70.8" cy="145.3" r="2.25"/><circle cx="71.9" cy="177.5" r="2.25"/><circle cx="73.0" cy="205.1" r="2.25"/><circle cx="74.1" cy="207.8" r="2.25"/><circle cx="75.3" cy="217.8" r="2.25"/><circle cx="76.4" cy="226.9" r="2.25"/><circle cx="77.5" cy="233.2" r="2.25"/><circle cx="78.6" cy="237.8" r="2.25"/><circle cx="79.8" cy="242.1" r="2.25"/><circle cx="80.9" cy="242.4" r="2.25"/><circle cx="82.0" cy="243.1" r="2.25"/><circle cx="83.1" cy="242.3" r="2.25"/><circle cx="84.3" cy="244.4" r="2.25"/><circle cx="85.4" cy="246.0" r="2.25"/><circle cx="86.5" cy="247.3" r="2.25"/><circle cx="87.6" cy="249.8" r="2.25"/><circle cx="88.8" cy="248.6" r="2.25"/><circle cx="89.9" cy="250.8" r="2.25"/><circle cx="91.0" cy="252.6" r="2.25"/><circle cx="92.1" cy="252.8" r="2.25"/><circle cx="93.3" cy="251.1" r="2.25"/><circle cx="94.4" cy="252.0" r="2.25"/><circle cx="95.5" cy="254.4" r="2.25"/><circle cx="96.7" cy="255.2" r="2.25"/><circle cx="97.8" cy="254.2" r="2.25"/><circle cx="98.9" cy="254.8" r="2.25"/><circle cx="100.0" cy="256.0" r="2.25"/><circle cx="101.2" cy="256.1" r="2.25"/><circle cx="102.3" cy="255.2" r="2.25"/><circle cx="103.4" cy="253.3" r="2.25"/><circle cx="104.5" cy="256.4" r="2.25"/><circle cx="105.7" cy="256.9" r="2.25"/><circle cx="106.8" cy="257.3" r="2.25"/><circle cx="107.9" cy="257.8" r="2.25"/><circle cx="109.0" cy="253.1" r="2.25"/><circle cx="110.2" cy="247.7" r="2.25"/><circle cx="111.3" cy="239.5" r="2.25"/><circle cx="112.4" cy="234.1" r="2.25"/><circle cx="113.5" cy="230.0" r="2.25"/><circle cx="114.7" cy="227.8" r="2.25"/><circle cx="115.8" cy="233.2" r="2.25"/><circle cx="116.9" cy="240.5" r="2.25"/><circle cx="118.0" cy="245.0" r="2.25"/><circle cx="119.2" cy="247.7" r="2.25"/><circle cx="120.3" cy="250.4" r="2.25"/><circle cx="121.4" cy="252.2" r="2.25"/><circle cx="122.5" cy="252.5" r="2.25"/><circle cx="123.7" cy="252.8" r="2.25"/><circle cx="124.8" cy="253.1" r="2.25"/><circle cx="125.9" cy="253.4" r="2.25"/><circle cx="127.1" cy="253.7" r="2.25"/><circle cx="128.2" cy="254.0" r="2.25"/><circle cx="129.3" cy="249.5" r="2.25"/><circle cx="130.4" cy="235.9" r="2.25"/><circle cx="131.6" cy="228.7" r="2.25"/><circle cx="132.7" cy="226.0" r="2.25"/><circle cx="133.8" cy="223.2" r="2.25"/><circle cx="134.9" cy="221.4" r="2.25"/><circle cx="136.1" cy="220.1" r="2.25"/><circle cx="137.2" cy="230.9" r="2.25"/><circle cx="138.3" cy="237.7" r="2.25"/><circle cx="139.4" cy="241.4" r="2.25"/><circle cx="140.6" cy="244.1" r="2.25"/><circle cx="141.7" cy="246.8" r="2.25"/><circle cx="142.8" cy="249.5" r="2.25"/><circle cx="143.9" cy="252.2" r="2.25"/><circle cx="145.1" cy="254.0" r="2.25"/><circle cx="146.2" cy="254.7" r="2.25"/><circle cx="147.3" cy="255.4" r="2.25"/><circle cx="148.4" cy="255.2" r="2.25"/><circle cx="149.6" cy="253.6" r="2.25"/><circle cx="150.7" cy="255.7" r="2.25"/><circle cx="151.8" cy="256.8" r="2.25"/><circle cx="152.9" cy="255.6" r="2.25"/><circle cx="154.1" cy="256.3" r="2.25"/><circle cx="155.2" cy="255.2" r="2.25"/><circle cx="156.3" cy="255.5" r="2.25"/><circle cx="157.5" cy="255.4" r="2.25"/><circle cx="158.6" cy="256.2" r="2.25"/><circle cx="159.7" cy="255.3" r="2.25"/><circle cx="160.8" cy="256.1" r="2.25"/><circle cx="162.0" cy="255.2" r="2.25"/><circle cx="163.1" cy="255.9" r="2.25"/><circle cx="164.2" cy="256.7" r="2.25"/><circle cx="165.3" cy="255.2" r="2.25"/><circle cx="166.5" cy="256.3" r="2.25"/><circle cx="167.6" cy="254.4" r="2.25"/><circle cx="168.7" cy="255.3" r="2.25"/><circle cx="169.8" cy="255.2" r="2.25"/><circle cx="171.0" cy="255.6" r="2.25"/><circle cx="172.1" cy="255.7" r="2.25"/><circle cx="173.2" cy="257.6" r="2.25"/><circle cx="174.3" cy="254.3" r="2.25"/><circle cx="175.5" cy="250.7" r="2.25"/><circle cx="176.6" cy="254.1" r="2.25"/><circle cx="177.7" cy="255.5" r="2.25"/><circle cx="178.8" cy="255.1" r="2.25"/><circle cx="180.0" cy="255.2" r="2.25"/><circle cx="181.1" cy="255.8" r="2.25"/><circle cx="182.2" cy="256.0" r="2.25"/><circle cx="183.4" cy="256.4" r="2.25"/><circle cx="184.5" cy="258.2" r="2.25"/><circle cx="185.6" cy="259.9" r="2.25"/><circle cx="186.7" cy="260.3" r="2.25"/><circle cx="187.9" cy="260.5" r="2.25"/><circle cx="189.0" cy="257.4" r="2.25"/><circle cx="190.1" cy="254.9" r="2.25"/><circle cx="191.2" cy="255.1" r="2.25"/><circle cx="192.4" cy="256.3" r="2.25"/><circle cx="193.5" cy="254.6" r="2.25"/><circle cx="194.6" cy="255.4" r="2.25"/><circle cx="195.7" cy="255.6" r="2.25"/><circle cx="196.9" cy="254.6" r="2.25"/><circle cx="198.0" cy="254.8" r="2.25"/><circle cx="199.1" cy="254.9" r="2.25"/><circle cx="200.2" cy="256.4" r="2.25"/><circle cx="201.4" cy="256.0" r="2.25"/><circle cx="202.5" cy="256.9" r="2.25"/><circle cx="203.6" cy="255.2" r="2.25"/><circle cx="204.7" cy="255.4" r="2.25"/><circle cx="205.9" cy="254.6" r="2.25"/><circle cx="207.0" cy="249.8" r="2.25"/><circle cx="208.1" cy="255.3" r="2.25"/><circle cx="209.2" cy="253.0" r="2.25"/><circle cx="210.4" cy="255.9" r="2.25"/><circle cx="211.5" cy="256.2" r="2.25"/><circle cx="212.6" cy="255.0" r="2.25"/><circle cx="213.8" cy="255.0" r="2.25"/><circle cx="214.9" cy="256.8" r="2.25"/><circle cx="216.0" cy="257.8" r="2.25"/><circle cx="217.1" cy="259.4" r="2.25"/><circle cx="218.3" cy="258.1" r="2.25"/><circle cx="219.4" cy="260.9" r="2.25"/><circle cx="220.5" cy="260.5" r="2.25"/><circle cx="221.6" cy="256.9" r="2.25"/><circle cx="222.8" cy="256.1" r="2.25"/><circle cx="223.9" cy="255.6" r="2.25"/><circle cx="225.0" cy="254.2" r="2.25"/><circle cx="226.1" cy="255.8" r="2.25"/><circle cx="227.3" cy="255.4" r="2.25"/><circle cx="228.4" cy="255.7" r="2.25"/><circle cx="229.5" cy="255.6" r="2.25"/><circle cx="230.6" cy="254.7" r="2.25"/><circle cx="231.8" cy="254.9" r="2.25"/><circle cx="232.9" cy="255.7" r="2.25"/><circle cx="234.0" cy="256.2" r="2.25"/><circle cx="235.1" cy="255.5" r="2.25"/><circle cx="236.3" cy="254.6" r="2.25"/><circle cx="237.4" cy="255.4" r="2.25"/><circle cx="238.5" cy="255.5" r="2.25"/><circle cx="239.7" cy="251.6" r="2.25"/><circle cx="240.8" cy="254.0" r="2.25"/><circle cx="241.9" cy="256.3" r="2.25"/><circle cx="243.0" cy="256.1" r="2.25"/><circle cx="244.2" cy="255.3" r="2.25"/><circle cx="245.3" cy="255.1" r="2.25"/><circle cx="246.4" cy="256.0" r="2.25"/><circle cx="247.5" cy="257.7" r="2.25"/><circle cx="248.7" cy="258.3" r="2.25"/><circle cx="249.8" cy="259.5" r="2.25"/><circle cx="250.9" cy="261.6" r="2.25"/><circle cx="252.0" cy="260.8" r="2.25"/><circle cx="253.2" cy="258.5" r="2.25"/><circle cx="254.3" cy="255.0" r="2.25"/><circle cx="255.4" cy="255.5" r="2.25"/><circle cx="256.5" cy="254.5" r="2.25"/><circle cx="257.7" cy="254.8" r="2.25"/><circle cx="258.8" cy="254.6" r="2.25"/><circle cx="259.9" cy="254.3" r="2.25"/><circle cx="261.0" cy="254.8" r="2.25"/><circle cx="262.2" cy="255.6" r="2.25"/><circle cx="263.3" cy="254.2" r="2.25"/><circle cx="264.4" cy="256.2" r="2.25"/><circle cx="265.5" cy="255.4" r="2.25"/><circle cx="266.7" cy="254.6" r="2.25"/><circle cx="267.8" cy="255.7" r="2.25"/><circle cx="268.9" cy="254.8" r="2.25"/><circle cx="270.1" cy="256.1" r="2.25"/><circle cx="271.2" cy="250.5" r="2.25"/><circle cx="272.3" cy="254.5" r="2.25"/><circle cx="273.4" cy="254.3" r="2.25"/><circle cx="274.6" cy="253.9" r="2.25"/><circle cx="275.7" cy="255.0" r="2.25"/><circle cx="276.8" cy="254.4" r="2.25"/><circle cx="277.9" cy="255.1" r="2.25"/><circle cx="279.1" cy="256.2" r="2.25"/><circle cx="280.2" cy="258.8" r="2.25"/><circle cx="281.3" cy="259.1" r="2.25"/><circle cx="282.4" cy="258.3" r="2.25"/><circle cx="283.6" cy="261.7" r="2.25"/><circle cx="284.7" cy="258.4" r="2.25"/><circle cx="285.8" cy="256.6" r="2.25"/><circle cx="286.9" cy="254.5" r="2.25"/><circle cx="288.1" cy="256.1" r="2.25"/><circle cx="289.2" cy="255.4" r="2.25"/><circle cx="290.3" cy="257.2" r="2.25"/><circle cx="291.4" cy="255.4" r="2.25"/><circle cx="292.6" cy="254.4" r="2.25"/><circle cx="293.7" cy="256.8" r="2.25"/><circle cx="294.8" cy="254.3" r="2.25"/><circle cx="296.0" cy="256.0" r="2.25"/><circle cx="297.1" cy="255.4" r="2.25"/><circle cx="298.2" cy="253.1" r="2.25"/><circle cx="299.3" cy="249.4" r="2.25"/><circle cx="300.5" cy="250.6" r="2.25"/><circle cx="301.6" cy="249.5" r="2.25"/><circle cx="302.7" cy="251.5" r="2.25"/><circle cx="303.8" cy="252.6" r="2.25"/><circle cx="305.0" cy="252.9" r="2.25"/><circle cx="306.1" cy="253.1" r="2.25"/><circle cx="307.2" cy="253.8" r="2.25"/><circle cx="308.3" cy="254.2" r="2.25"/><circle cx="309.5" cy="254.3" r="2.25"/><circle cx="310.6" cy="257.4" r="2.25"/><circle cx="311.7" cy="256.1" r="2.25"/><circle cx="312.8" cy="255.4" r="2.25"/><circle cx="314.0" cy="256.2" r="2.25"/><circle cx="315.1" cy="257.6" r="2.25"/><circle cx="316.2" cy="258.0" r="2.25"/><circle cx="317.3" cy="257.3" r="2.25"/><circle cx="318.5" cy="258.8" r="2.25"/><circle cx="319.6" cy="259.5" r="2.25"/><circle cx="320.7" cy="258.3" r="2.25"/><circle cx="321.8" cy="260.4" r="2.25"/><circle cx="323.0" cy="260.1" r="2.25"/><circle cx="324.1" cy="261.2" r="2.25"/><circle cx="325.2" cy="261.6" r="2.25"/><circle cx="326.4" cy="262.8" r="2.25"/><circle cx="327.5" cy="246.8" r="2.25"/><circle cx="328.6" cy="235.0" r="2.25"/><circle cx="329.7" cy="224.1" r="2.25"/><circle cx="330.9" cy="216.9" r="2.25"/><circle cx="332.0" cy="212.4" r="2.25"/><circle cx="333.1" cy="183.4" r="2.25"/><circle cx="334.2" cy="157.1" r="2.25"/><circle cx="335.4" cy="140.8" r="2.25"/><circle cx="336.5" cy="133.5" r="2.25"/><circle cx="337.6" cy="115.4" r="2.25"/><circle cx="338.7" cy="104.6" r="2.25"/><circle cx="339.9" cy="93.7" r="2.25"/><circle cx="341.0" cy="84.6" r="2.25"/><circle cx="342.1" cy="77.4" r="2.25"/><circle cx="343.2" cy="68.3" r="2.25"/><circle cx="344.4" cy="65.1" r="2.25"/><circle cx="345.5" cy="65.4" r="2.25"/><circle cx="346.6" cy="62.9" r="2.25"/><circle cx="347.7" cy="62.9" r="2.25"/><circle cx="348.9" cy="64.7" r="2.25"/><circle cx="350.0" cy="64.1" r="2.25"/><circle cx="351.1" cy="70.6" r="2.25"/><circle cx="352.3" cy="69.5" r="2.25"/><circle cx="353.4" cy="66.3" r="2.25"/><circle cx="354.5" cy="67.9" r="2.25"/><circle cx="355.6" cy="67.1" r="2.25"/><circle cx="356.8" cy="67.7" r="2.25"/><circle cx="357.9" cy="68.0" r="2.25"/><circle cx="359.0" cy="62.9" r="2.25"/><circle cx="360.1" cy="62.9" r="2.25"/><circle cx="361.3" cy="66.4" r="2.25"/><circle cx="362.4" cy="66.1" r="2.25"/><circle cx="363.5" cy="69.0" r="2.25"/><circle cx="364.6" cy="68.3" r="2.25"/><circle cx="365.8" cy="69.3" r="2.25"/><circle cx="366.9" cy="67.3" r="2.25"/><circle cx="368.0" cy="73.2" r="2.25"/><circle cx="369.1" cy="71.8" r="2.25"/><circle cx="370.3" cy="72.7" r="2.25"/><circle cx="371.4" cy="79.8" r="2.25"/><circle cx="372.5" cy="80.6" r="2.25"/><circle cx="373.6" cy="79.1" r="2.25"/><circle cx="374.8" cy="70.8" r="2.25"/><circle cx="375.9" cy="71.0" r="2.25"/><circle cx="377.0" cy="70.7" r="2.25"/><circle cx="378.1" cy="71.8" r="2.25"/><circle cx="379.3" cy="70.6" r="2.25"/><circle cx="380.4" cy="76.1" r="2.25"/><circle cx="381.5" cy="74.8" r="2.25"/><circle cx="382.7" cy="75.7" r="2.25"/><circle cx="383.8" cy="74.1" r="2.25"/><circle cx="384.9" cy="74.0" r="2.25"/><circle cx="386.0" cy="72.4" r="2.25"/><circle cx="387.2" cy="74.8" r="2.25"/><circle cx="388.3" cy="70.1" r="2.25"/><circle cx="389.4" cy="66.5" r="2.25"/><circle cx="390.5" cy="70.1" r="2.25"/><circle cx="391.7" cy="71.7" r="2.25"/><circle cx="392.8" cy="71.8" r="2.25"/><circle cx="393.9" cy="69.7" r="2.25"/><circle cx="395.0" cy="67.2" r="2.25"/><circle cx="396.2" cy="72.7" r="2.25"/><circle cx="397.3" cy="74.4" r="2.25"/><circle cx="398.4" cy="76.3" r="2.25"/><circle cx="399.5" cy="77.4" r="2.25"/><circle cx="400.7" cy="79.2" r="2.25"/><circle cx="401.8" cy="75.8" r="2.25"/><circle cx="402.9" cy="77.2" r="2.25"/><circle cx="404.0" cy="72.1" r="2.25"/><circle cx="405.2" cy="70.6" r="2.25"/><circle cx="406.3" cy="74.1" r="2.25"/><circle cx="407.4" cy="76.0" r="2.25"/><circle cx="408.6" cy="76.1" r="2.25"/><circle cx="409.7" cy="71.7" r="2.25"/><circle cx="410.8" cy="74.2" r="2.25"/><circle cx="411.9" cy="77.1" r="2.25"/><circle cx="413.1" cy="75.4" r="2.25"/><circle cx="414.2" cy="73.6" r="2.25"/><circle cx="415.3" cy="74.8" r="2.25"/><circle cx="416.4" cy="70.4" r="2.25"/><circle cx="417.6" cy="71.1" r="2.25"/><circle cx="418.7" cy="71.0" r="2.25"/><circle cx="419.8" cy="73.8" r="2.25"/><circle cx="420.9" cy="73.5" r="2.25"/><circle cx="422.1" cy="73.7" r="2.25"/><circle cx="423.2" cy="86.6" r="2.25"/><circle cx="424.3" cy="79.0" r="2.25"/><circle cx="425.4" cy="78.3" r="2.25"/><circle cx="426.6" cy="75.9" r="2.25"/><circle cx="427.7" cy="77.9" r="2.25"/><circle cx="428.8" cy="71.1" r="2.25"/><circle cx="429.9" cy="71.2" r="2.25"/><circle cx="431.1" cy="70.0" r="2.25"/><circle cx="432.2" cy="69.3" r="2.25"/><circle cx="433.3" cy="73.8" r="2.25"/><circle cx="434.4" cy="78.4" r="2.25"/><circle cx="435.6" cy="76.6" r="2.25"/><circle cx="436.7" cy="72.9" r="2.25"/><circle cx="437.8" cy="72.7" r="2.25"/><circle cx="439.0" cy="71.0" r="2.25"/><circle cx="440.1" cy="69.7" r="2.25"/><circle cx="441.2" cy="74.4" r="2.25"/><circle cx="442.3" cy="73.0" r="2.25"/><circle cx="443.5" cy="68.5" r="2.25"/><circle cx="444.6" cy="71.6" r="2.25"/><circle cx="445.7" cy="76.6" r="2.25"/><circle cx="446.8" cy="75.3" r="2.25"/><circle cx="448.0" cy="75.1" r="2.25"/><circle cx="449.1" cy="73.1" r="2.25"/><circle cx="450.2" cy="74.8" r="2.25"/><circle cx="451.3" cy="73.6" r="2.25"/><circle cx="452.5" cy="78.1" r="2.25"/><circle cx="453.6" cy="73.7" r="2.25"/><circle cx="454.7" cy="69.6" r="2.25"/><circle cx="455.8" cy="68.0" r="2.25"/><circle cx="457.0" cy="73.4" r="2.25"/><circle cx="458.1" cy="72.3" r="2.25"/><circle cx="459.2" cy="79.0" r="2.25"/><circle cx="460.3" cy="75.4" r="2.25"/><circle cx="461.5" cy="74.2" r="2.25"/><circle cx="462.6" cy="75.6" r="2.25"/><circle cx="463.7" cy="73.4" r="2.25"/><circle cx="464.9" cy="72.6" r="2.25"/></g>
<polyline points="68.5,42.0 69.6,90.1 70.8,135.4 71.9,178.8 73.0,198.8 74.1,205.5 75.3,215.1 76.4,223.2 77.5,233.2 78.6,238.6 79.8,239.5 80.9,242.3 82.0,243.2 83.1,245.0 84.3,247.7 85.4,245.9 86.5,247.7 87.6,245.9 88.8,247.7 89.9,249.5 91.0,251.3 92.1,251.3 93.3,252.2 94.4,254.0 95.5,251.3 96.7,253.1 97.8,252.2 98.9,255.9 100.0,253.1 101.2,256.8 102.3,256.8 103.4,254.9 104.5,255.9 105.7,258.6 106.8,256.8 107.9,253.1 109.0,254.0 110.2,254.9 111.3,254.9 112.4,252.2 113.5,249.5 114.7,249.5 115.8,249.5 116.9,249.5 118.0,249.5 119.2,253.1 120.3,255.9 121.4,255.9 122.5,255.9 123.7,255.9 124.8,255.9 125.9,255.9 127.1,255.9 128.2,255.9 129.3,255.9 130.4,255.9 131.6,255.9 132.7,253.1 133.8,249.5 134.9,249.5 136.1,249.5 137.2,249.5 138.3,249.5 139.4,253.1 140.6,255.9 141.7,255.9 142.8,255.9 143.9,254.9 145.1,254.9 146.2,254.9 147.3,254.9 148.4,254.9 149.6,254.0 150.7,254.0 151.8,253.1 152.9,253.1 154.1,253.1 155.2,249.5 156.3,253.1 157.5,251.3 158.6,254.0 159.7,252.2 160.8,252.2 162.0,254.0 163.1,250.4 164.2,252.2 165.3,249.5 166.5,253.1 167.6,250.4 168.7,248.6 169.8,251.3 171.0,253.1 172.1,251.3 173.2,251.3 174.3,252.2 175.5,252.2 176.6,252.2 177.7,251.3 178.8,252.2 180.0,253.1 181.1,250.4 182.2,252.2 183.4,247.7 184.5,252.2 185.6,253.1 186.7,253.1 187.9,251.3 189.0,253.1 190.1,254.0 191.2,249.5 192.4,258.6 193.5,254.0 194.6,255.9 195.7,257.7 196.9,254.0 198.0,256.8 199.1,257.7 200.2,255.9 201.4,254.0 202.5,254.9 203.6,254.9 204.7,254.0 205.9,255.9 207.0,255.9 208.1,256.8 209.2,254.0 210.4,252.2 211.5,249.5 212.6,254.9 213.8,250.4 214.9,252.2 216.0,254.0 217.1,252.2 218.3,249.5 219.4,253.1 220.5,254.0 221.6,254.0 222.8,256.8 223.9,251.3 225.0,255.9 226.1,256.8 227.3,254.9 228.4,256.8 229.5,256.8 230.6,258.6 231.8,255.9 232.9,256.8 234.0,256.8 235.1,257.7 236.3,258.6 237.4,257.7 238.5,254.9 239.7,257.7 240.8,250.4 241.9,251.3 243.0,252.2 244.2,254.0 245.3,249.5 246.4,254.0 247.5,251.3 248.7,249.5 249.8,252.2 250.9,253.1 252.0,252.2 253.2,250.4 254.3,250.4 255.4,251.3 256.5,257.7 257.7,257.7 258.8,255.9 259.9,258.6 261.0,256.8 262.2,253.1 263.3,257.7 264.4,254.9 265.5,257.7 266.7,256.8 267.8,256.8 268.9,258.6 270.1,256.8 271.2,254.0 272.3,254.9 273.4,251.3 274.6,253.1 275.7,252.2 276.8,252.2 277.9,251.3 279.1,250.4 280.2,254.0 281.3,249.5 282.4,252.2 283.6,252.2 284.7,254.0 285.8,252.2 286.9,252.2 288.1,254.0 289.2,256.8 290.3,255.9 291.4,256.8 292.6,254.9 293.7,261.3 294.8,257.7 296.0,256.8 297.1,255.9 298.2,259.5 299.3,254.9 300.5,255.9 301.6,254.0 302.7,257.7 303.8,254.0 305.0,257.7 306.1,254.0 307.2,255.9 308.3,257.7 309.5,253.1 310.6,258.6 311.7,257.7 312.8,256.8 314.0,256.8 315.1,257.7 316.2,256.8 317.3,257.7 318.5,258.6 319.6,259.5 320.7,259.5 321.8,257.7 323.0,260.4 324.1,258.6 325.2,262.2 326.4,260.4 327.5,262.2 328.6,257.7 329.7,262.2 330.9,260.4 332.0,256.8 333.1,259.0 334.2,247.7 335.4,225.1 336.5,206.9 337.6,184.3 338.7,166.2 339.9,148.0 341.0,129.9 342.1,113.6 343.2,100.0 344.4,88.2 345.5,77.4 346.6,74.2 347.7,75.6 348.9,74.7 350.0,72.8 351.1,68.3 352.3,72.8 353.4,74.7 354.5,76.5 355.6,71.0 356.8,75.6 357.9,80.1 359.0,76.5 360.1,72.8 361.3,74.7 362.4,73.7 363.5,71.0 364.6,73.7 365.8,72.8 366.9,71.9 368.0,74.7 369.1,71.9 370.3,73.7 371.4,70.1 372.5,77.4 373.6,82.8 374.8,73.7 375.9,70.1 377.0,73.7 378.1,74.7 379.3,70.1 380.4,76.5 381.5,72.8 382.7,71.9 383.8,71.0 384.9,76.5 386.0,77.4 387.2,77.4 388.3,75.6 389.4,73.7 390.5,68.3 391.7,74.7 392.8,80.1 393.9,68.3 395.0,70.1 396.2,71.9 397.3,68.3 398.4,73.7 399.5,69.2 400.7,72.8 401.8,73.7 402.9,71.0 404.0,71.0 405.2,69.2 406.3,70.1 407.4,74.7 408.6,73.7 409.7,68.3 410.8,71.9 411.9,72.8 413.1,69.2 414.2,69.2 415.3,69.2 416.4,74.7 417.6,74.7 418.7,71.0 419.8,70.1 420.9,76.5 422.1,74.7 423.2,73.7 424.3,70.1 425.4,76.5 426.6,68.3 427.7,72.8 428.8,71.0 429.9,68.3 431.1,79.2 432.2,76.5 433.3,73.7 434.4,71.9 435.6,76.5 436.7,73.7 437.8,72.8 439.0,76.5 440.1,70.1 441.2,71.9 442.3,78.3 443.5,71.0 444.6,75.6 445.7,71.9 446.8,75.6 448.0,74.7 449.1,71.9 450.2,68.3 451.3,77.4 452.5,74.7 453.6,74.7 454.7,70.1 455.8,73.7 457.0,71.9 458.1,69.2 459.2,71.0 460.3,74.7 461.5,74.7 462.6,73.7 463.7,72.8 464.9,75.6" fill="none" stroke="#7F7F7F" stroke-width="1.6" stroke-linejoin="round"/>
<path d="M68.3 42.2h3.9M69.4 90.3h3.9M70.6 135.6h3.9M71.7 179.0h3.9M72.8 199.0h3.9M73.9 205.7h3.9M75.1 215.3h3.9M76.2 223.4h3.9M77.3 233.4h3.9M78.4 238.8h3.9M79.6 239.7h3.9M80.7 242.5h3.9M81.8 243.4h3.9M82.9 245.2h3.9M84.1 247.9h3.9M85.2 246.1h3.9M86.3 247.9h3.9M87.4 246.1h3.9M88.6 247.9h3.9M89.7 249.7h3.9M90.8 251.5h3.9M91.9 251.5h3.9M93.1 252.4h3.9M94.2 254.2h3.9M95.3 251.5h3.9M96.5 253.3h3.9M97.6 252.4h3.9M98.7 256.1h3.9M99.8 253.3h3.9M101.0 257.0h3.9M102.1 257.0h3.9M103.2 255.1h3.9M104.3 256.1h3.9M105.5 258.8h3.9M106.6 257.0h3.9M107.7 253.3h3.9M108.8 254.2h3.9M110.0 255.1h3.9M111.1 255.1h3.9M112.2 252.4h3.9M113.3 249.7h3.9M114.5 249.7h3.9M115.6 249.7h3.9M116.7 249.7h3.9M117.8 249.7h3.9M119.0 253.3h3.9M120.1 256.1h3.9M121.2 256.1h3.9M122.3 256.1h3.9M123.5 256.1h3.9M124.6 256.1h3.9M125.7 256.1h3.9M126.9 256.1h3.9M128.0 256.1h3.9M129.1 256.1h3.9M130.2 256.1h3.9M131.4 256.1h3.9M132.5 253.3h3.9M133.6 249.7h3.9M134.7 249.7h3.9M135.9 249.7h3.9M137.0 249.7h3.9M138.1 249.7h3.9M139.2 253.3h3.9M140.4 256.1h3.9M141.5 256.1h3.9M142.6 256.1h3.9M143.7 255.1h3.9M144.9 255.1h3.9M146.0 255.1h3.9M147.1 255.1h3.9M148.2 255.1h3.9M149.4 254.2h3.9M150.5 254.2h3.9M151.6 253.3h3.9M152.8 253.3h3.9M153.9 253.3h3.9M155.0 249.7h3.9M156.1 253.3h3.9M157.3 251.5h3.9M158.4 254.2h3.9M159.5 252.4h3.9M160.6 252.4h3.9M161.8 254.2h3.9M162.9 250.6h3.9M164.0 252.4h3.9M165.1 249.7h3.9M166.3 253.3h3.9M167.4 250.6h3.9M168.5 248.8h3.9M169.6 251.5h3.9M170.8 253.3h3.9M171.9 251.5h3.9M173.0 251.5h3.9M174.1 252.4h3.9M175.3 252.4h3.9M176.4 252.4h3.9M177.5 251.5h3.9M178.6 252.4h3.9M179.8 253.3h3.9M180.9 250.6h3.9M182.0 252.4h3.9M183.2 247.9h3.9M184.3 252.4h3.9M185.4 253.3h3.9M186.5 253.3h3.9M187.7 251.5h3.9M188.8 253.3h3.9M189.9 254.2h3.9M191.0 249.7h3.9M192.2 258.8h3.9M193.3 254.2h3.9M194.4 256.1h3.9M195.5 257.9h3.9M196.7 254.2h3.9M197.8 257.0h3.9M198.9 257.9h3.9M200.0 256.1h3.9M201.2 254.2h3.9M202.3 255.1h3.9M203.4 255.1h3.9M204.5 254.2h3.9M205.7 256.1h3.9M206.8 256.1h3.9M207.9 257.0h3.9M209.1 254.2h3.9M210.2 252.4h3.9M211.3 249.7h3.9M212.4 255.1h3.9M213.6 250.6h3.9M214.7 252.4h3.9M215.8 254.2h3.9M216.9 252.4h3.9M218.1 249.7h3.9M219.2 253.3h3.9M220.3 254.2h3.9M221.4 254.2h3.9M222.6 257.0h3.9M223.7 251.5h3.9M224.8 256.1h3.9M225.9 257.0h3.9M227.1 255.1h3.9M228.2 257.0h3.9M229.3 257.0h3.9M230.4 258.8h3.9M231.6 256.1h3.9M232.7 257.0h3.9M233.8 257.0h3.9M234.9 257.9h3.9M236.1 258.8h3.9M237.2 257.9h3.9M238.3 255.1h3.9M239.5 257.9h3.9M240.6 250.6h3.9M241.7 251.5h3.9M242.8 252.4h3.9M244.0 254.2h3.9M245.1 249.7h3.9M246.2 254.2h3.9M247.3 251.5h3.9M248.5 249.7h3.9M249.6 252.4h3.9M250.7 253.3h3.9M251.8 252.4h3.9M253.0 250.6h3.9M254.1 250.6h3.9M255.2 251.5h3.9M256.3 257.9h3.9M257.5 257.9h3.9M258.6 256.1h3.9M259.7 258.8h3.9M260.8 257.0h3.9M262.0 253.3h3.9M263.1 257.9h3.9M264.2 255.1h3.9M265.3 257.9h3.9M266.5 257.0h3.9M267.6 257.0h3.9M268.7 258.8h3.9M269.9 257.0h3.9M271.0 254.2h3.9M272.1 255.1h3.9M273.2 251.5h3.9M274.4 253.3h3.9M275.5 252.4h3.9M276.6 252.4h3.9M277.7 251.5h3.9M278.9 250.6h3.9M280.0 254.2h3.9M281.1 249.7h3.9M282.2 252.4h3.9M283.4 252.4h3.9M284.5 254.2h3.9M285.6 252.4h3.9M286.7 252.4h3.9M287.9 254.2h3.9M289.0 257.0h3.9M290.1 256.1h3.9M291.2 257.0h3.9M292.4 255.1h3.9M293.5 261.5h3.9M294.6 257.9h3.9M295.8 257.0h3.9M296.9 256.1h3.9M298.0 259.7h3.9M299.1 255.1h3.9M300.3 256.1h3.9M301.4 254.2h3.9M302.5 257.9h3.9M303.6 254.2h3.9M304.8 257.9h3.9M305.9 254.2h3.9M307.0 256.1h3.9M308.1 257.9h3.9M309.3 253.3h3.9M310.4 258.8h3.9M311.5 257.9h3.9M312.6 257.0h3.9M313.8 257.0h3.9M314.9 257.9h3.9M316.0 257.0h3.9M317.1 257.9h3.9M318.3 258.8h3.9M319.4 259.7h3.9M320.5 259.7h3.9M321.6 257.9h3.9M322.8 260.6h3.9M323.9 258.8h3.9M325.0 262.4h3.9M326.2 260.6h3.9M327.3 262.4h3.9M328.4 257.9h3.9M329.5 262.4h3.9M330.7 260.6h3.9M331.8 257.0h3.9M332.9 259.2h3.9M334.0 247.9h3.9M335.2 225.2h3.9M336.3 207.1h3.9M337.4 184.5h3.9M338.5 166.4h3.9M339.7 148.2h3.9M340.8 130.1h3.9M341.9 113.8h3.9M343.0 100.2h3.9M344.2 88.4h3.9M345.3 77.6h3.9M346.4 74.4h3.9M347.5 75.8h3.9M348.7 74.9h3.9M349.8 73.0h3.9M350.9 68.5h3.9M352.1 73.0h3.9M353.2 74.9h3.9M354.3 76.7h3.9M355.4 71.2h3.9M356.6 75.8h3.9M357.7 80.3h3.9M358.8 76.7h3.9M359.9 73.0h3.9M361.1 74.9h3.9M362.2 73.9h3.9M363.3 71.2h3.9M364.4 73.9h3.9M365.6 73.0h3.9M366.7 72.1h3.9M367.8 74.9h3.9M368.9 72.1h3.9M370.1 73.9h3.9M371.2 70.3h3.9M372.3 77.6h3.9M373.4 83.0h3.9M374.6 73.9h3.9M375.7 70.3h3.9M376.8 73.9h3.9M377.9 74.9h3.9M379.1 70.3h3.9M380.2 76.7h3.9M381.3 73.0h3.9M382.5 72.1h3.9M383.6 71.2h3.9M384.7 76.7h3.9M385.8 77.6h3.9M387.0 77.6h3.9M388.1 75.8h3.9M389.2 73.9h3.9M390.3 68.5h3.9M391.5 74.9h3.9M392.6 80.3h3.9M393.7 68.5h3.9M394.8 70.3h3.9M396.0 72.1h3.9M397.1 68.5h3.9M398.2 73.9h3.9M399.3 69.4h3.9M400.5 73.0h3.9M401.6 73.9h3.9M402.7 71.2h3.9M403.8 71.2h3.9M405.0 69.4h3.9M406.1 70.3h3.9M407.2 74.9h3.9M408.4 73.9h3.9M409.5 68.5h3.9M410.6 72.1h3.9M411.7 73.0h3.9M412.9 69.4h3.9M414.0 69.4h3.9M415.1 69.4h3.9M416.2 74.9h3.9M417.4 74.9h3.9M418.5 71.2h3.9M419.6 70.3h3.9M420.7 76.7h3.9M421.9 74.9h3.9M423.0 73.9h3.9M424.1 70.3h3.9M425.2 76.7h3.9M426.4 68.5h3.9M427.5 73.0h3.9M428.6 71.2h3.9M429.7 68.5h3.9M430.9 79.4h3.9M432.0 76.7h3.9M433.1 73.9h3.9M434.2 72.1h3.9M435.4 76.7h3.9M436.5 73.9h3.9M437.6 73.0h3.9M438.8 76.7h3.9M439.9 70.3h3.9M441.0 72.1h3.9M442.1 78.5h3.9M443.3 71.2h3.9M444.4 75.8h3.9M445.5 72.1h3.9M446.6 75.8h3.9M447.8 74.9h3.9M448.9 72.1h3.9M450.0 68.5h3.9M451.1 77.6h3.9M452.3 74.9h3.9M453.4 74.9h3.9M454.5 70.3h3.9M455.6 73.9h3.9M456.8 72.1h3.9M457.9 69.4h3.9M459.0 71.2h3.9M460.1 74.9h3.9M461.3 74.9h3.9M462.4 73.9h3.9M463.5 73.0h3.9M464.7 75.8h3.9" stroke="#646464" stroke-width="1.4" fill="none"/>
<g font-family="'Liberation Serif', 'Times New Roman', serif" font-size="11.7" fill="#1a1a1a" stroke="#1a1a1a" stroke-width="0.2">
<path d="M422.9 194.4H444.9" stroke="#2492DA" stroke-width="1.15"/>
<circle cx="433.9" cy="194.4" r="2.5" fill="#2492DA"/>
<text x="447.3" y="198.5">VIC-20</text>
<path d="M422.9 215.9H444.9" stroke="#F97A20" stroke-width="1.15"/>
<circle cx="433.9" cy="215.9" r="2.65" fill="#F97A20"/>
<text x="447.3" y="220.0">VIC-15</text>
<path d="M422.9 237.5H444.9" stroke="#5f5f5f" stroke-width="1.0"/>
<circle cx="433.9" cy="237.5" r="1.95" fill="#2F8A2F"/>
<text x="447.3" y="241.6">VIC-10</text>
<path d="M422.9 258.9H444.9" stroke="#7F7F7F" stroke-width="1.6"/>
<path d="M433.9 259.2h4.2" stroke="#646464" stroke-width="1.3"/>
<text x="447.3" y="263.0">VCC</text>
</g>
</svg>
</body></html>
